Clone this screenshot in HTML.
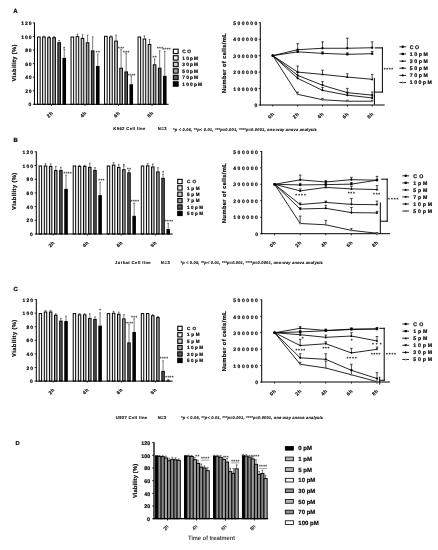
<!DOCTYPE html>
<html><head><meta charset="utf-8"><title>Figure</title>
<style>
html,body{margin:0;padding:0;background:#fff;}
svg{display:block;font-family:"Liberation Sans",sans-serif;text-rendering:geometricPrecision;}
</style></head><body>
<svg width="438" height="550" viewBox="0 0 438 550">
<rect x="0" y="0" width="438" height="550" fill="#fff"/>
<rect x="37.55" y="37" width="2.6" height="67.3" fill="#ffffff" stroke="#000" stroke-width="1"/>
<line x1="43.93" y1="36.5" x2="43.93" y2="36.09" stroke="#333" stroke-width="0.65" stroke-linecap="butt"/>
<line x1="43.08" y1="36.09" x2="44.78" y2="36.09" stroke="#333" stroke-width="0.65" stroke-linecap="butt"/>
<rect x="42.63" y="37" width="2.6" height="67.3" fill="#f0f0f0" stroke="#000" stroke-width="1"/>
<line x1="49.01" y1="37.18" x2="49.01" y2="36.64" stroke="#333" stroke-width="0.65" stroke-linecap="butt"/>
<line x1="48.16" y1="36.64" x2="49.86" y2="36.64" stroke="#333" stroke-width="0.65" stroke-linecap="butt"/>
<rect x="47.71" y="37.68" width="2.6" height="66.62" fill="#cdcdcd" stroke="#000" stroke-width="1"/>
<line x1="54.09" y1="37.18" x2="54.09" y2="36.64" stroke="#333" stroke-width="0.65" stroke-linecap="butt"/>
<line x1="53.24" y1="36.64" x2="54.94" y2="36.64" stroke="#333" stroke-width="0.65" stroke-linecap="butt"/>
<rect x="52.79" y="37.68" width="2.6" height="66.62" fill="#a4a4a4" stroke="#000" stroke-width="1"/>
<line x1="59.17" y1="42.26" x2="59.17" y2="40.57" stroke="#333" stroke-width="0.65" stroke-linecap="butt"/>
<line x1="58.32" y1="40.57" x2="60.02" y2="40.57" stroke="#333" stroke-width="0.65" stroke-linecap="butt"/>
<rect x="57.87" y="42.76" width="2.6" height="61.54" fill="#5a5a5a" stroke="#000" stroke-width="1"/>
<line x1="64.25" y1="57.86" x2="64.25" y2="49.38" stroke="#333" stroke-width="0.65" stroke-linecap="butt"/>
<line x1="63.4" y1="49.38" x2="65.1" y2="49.38" stroke="#333" stroke-width="0.65" stroke-linecap="butt"/>
<rect x="62.95" y="58.36" width="2.6" height="45.94" fill="#000000" stroke="#000" stroke-width="1"/>
<rect x="71.05" y="37" width="2.6" height="67.3" fill="#ffffff" stroke="#000" stroke-width="1"/>
<line x1="77.43" y1="36.16" x2="77.43" y2="34.13" stroke="#333" stroke-width="0.65" stroke-linecap="butt"/>
<line x1="76.58" y1="34.13" x2="78.28" y2="34.13" stroke="#333" stroke-width="0.65" stroke-linecap="butt"/>
<rect x="76.13" y="36.66" width="2.6" height="67.64" fill="#f0f0f0" stroke="#000" stroke-width="1"/>
<line x1="82.51" y1="37.86" x2="82.51" y2="34.8" stroke="#333" stroke-width="0.65" stroke-linecap="butt"/>
<line x1="81.66" y1="34.8" x2="83.36" y2="34.8" stroke="#333" stroke-width="0.65" stroke-linecap="butt"/>
<rect x="81.21" y="38.36" width="2.6" height="65.94" fill="#cdcdcd" stroke="#000" stroke-width="1"/>
<line x1="87.59" y1="42.26" x2="87.59" y2="35.14" stroke="#333" stroke-width="0.65" stroke-linecap="butt"/>
<line x1="86.74" y1="35.14" x2="88.44" y2="35.14" stroke="#333" stroke-width="0.65" stroke-linecap="butt"/>
<rect x="86.29" y="42.76" width="2.6" height="61.54" fill="#a4a4a4" stroke="#000" stroke-width="1"/>
<line x1="92.67" y1="50.4" x2="92.67" y2="36.84" stroke="#333" stroke-width="0.65" stroke-linecap="butt"/>
<line x1="91.82" y1="36.84" x2="93.52" y2="36.84" stroke="#333" stroke-width="0.65" stroke-linecap="butt"/>
<rect x="91.37" y="50.9" width="2.6" height="53.4" fill="#5a5a5a" stroke="#000" stroke-width="1"/>
<line x1="97.75" y1="65.99" x2="97.75" y2="54.13" stroke="#333" stroke-width="0.65" stroke-linecap="butt"/>
<line x1="96.9" y1="54.13" x2="98.6" y2="54.13" stroke="#333" stroke-width="0.65" stroke-linecap="butt"/>
<rect x="96.45" y="66.49" width="2.6" height="37.81" fill="#000000" stroke="#000" stroke-width="1"/>
<rect x="104.55" y="36.32" width="2.6" height="67.98" fill="#ffffff" stroke="#000" stroke-width="1"/>
<line x1="110.93" y1="36.5" x2="110.93" y2="35.82" stroke="#333" stroke-width="0.65" stroke-linecap="butt"/>
<line x1="110.08" y1="35.82" x2="111.78" y2="35.82" stroke="#333" stroke-width="0.65" stroke-linecap="butt"/>
<rect x="109.63" y="37" width="2.6" height="67.3" fill="#f0f0f0" stroke="#000" stroke-width="1"/>
<line x1="116.01" y1="40.57" x2="116.01" y2="35.14" stroke="#333" stroke-width="0.65" stroke-linecap="butt"/>
<line x1="115.16" y1="35.14" x2="116.86" y2="35.14" stroke="#333" stroke-width="0.65" stroke-linecap="butt"/>
<rect x="114.71" y="41.07" width="2.6" height="63.23" fill="#cdcdcd" stroke="#000" stroke-width="1"/>
<line x1="121.09" y1="67.69" x2="121.09" y2="49.72" stroke="#333" stroke-width="0.65" stroke-linecap="butt"/>
<line x1="120.24" y1="49.72" x2="121.94" y2="49.72" stroke="#333" stroke-width="0.65" stroke-linecap="butt"/>
<rect x="119.79" y="68.19" width="2.6" height="36.11" fill="#a4a4a4" stroke="#000" stroke-width="1"/>
<line x1="126.17" y1="71.42" x2="126.17" y2="53.11" stroke="#333" stroke-width="0.65" stroke-linecap="butt"/>
<line x1="125.32" y1="53.11" x2="127.02" y2="53.11" stroke="#333" stroke-width="0.65" stroke-linecap="butt"/>
<rect x="124.87" y="71.92" width="2.6" height="32.38" fill="#5a5a5a" stroke="#000" stroke-width="1"/>
<line x1="131.25" y1="84.3" x2="131.25" y2="76.16" stroke="#333" stroke-width="0.65" stroke-linecap="butt"/>
<line x1="130.4" y1="76.16" x2="132.1" y2="76.16" stroke="#333" stroke-width="0.65" stroke-linecap="butt"/>
<rect x="129.95" y="84.8" width="2.6" height="19.5" fill="#000000" stroke="#000" stroke-width="1"/>
<rect x="138.05" y="37" width="2.6" height="67.3" fill="#ffffff" stroke="#000" stroke-width="1"/>
<line x1="144.43" y1="38.53" x2="144.43" y2="35.82" stroke="#333" stroke-width="0.65" stroke-linecap="butt"/>
<line x1="143.58" y1="35.82" x2="145.28" y2="35.82" stroke="#333" stroke-width="0.65" stroke-linecap="butt"/>
<rect x="143.13" y="39.03" width="2.6" height="65.27" fill="#f0f0f0" stroke="#000" stroke-width="1"/>
<line x1="149.51" y1="43.96" x2="149.51" y2="39.55" stroke="#333" stroke-width="0.65" stroke-linecap="butt"/>
<line x1="148.66" y1="39.55" x2="150.36" y2="39.55" stroke="#333" stroke-width="0.65" stroke-linecap="butt"/>
<rect x="148.21" y="44.46" width="2.6" height="59.84" fill="#cdcdcd" stroke="#000" stroke-width="1"/>
<line x1="154.59" y1="64.3" x2="154.59" y2="58.87" stroke="#333" stroke-width="0.65" stroke-linecap="butt"/>
<line x1="153.74" y1="58.87" x2="155.44" y2="58.87" stroke="#333" stroke-width="0.65" stroke-linecap="butt"/>
<rect x="153.29" y="64.8" width="2.6" height="39.5" fill="#a4a4a4" stroke="#000" stroke-width="1"/>
<line x1="159.67" y1="67.69" x2="159.67" y2="50.74" stroke="#333" stroke-width="0.65" stroke-linecap="butt"/>
<line x1="158.82" y1="50.74" x2="160.52" y2="50.74" stroke="#333" stroke-width="0.65" stroke-linecap="butt"/>
<rect x="158.37" y="68.19" width="2.6" height="36.11" fill="#5a5a5a" stroke="#000" stroke-width="1"/>
<line x1="164.75" y1="75.82" x2="164.75" y2="51.42" stroke="#333" stroke-width="0.65" stroke-linecap="butt"/>
<line x1="163.9" y1="51.42" x2="165.6" y2="51.42" stroke="#333" stroke-width="0.65" stroke-linecap="butt"/>
<rect x="163.45" y="76.32" width="2.6" height="27.98" fill="#000000" stroke="#000" stroke-width="1"/>
<text transform="translate(63.36 49.83) scale(0.1)" font-size="46" text-anchor="start" fill="#222" font-weight="bold" stroke="#222" stroke-width="0.5">*</text>
<text transform="translate(95.7 54.03) scale(0.1)" font-size="46" text-anchor="start" fill="#222" font-weight="bold" textLength="41" lengthAdjust="spacing" stroke="#222" stroke-width="0.5">**</text>
<text transform="translate(118.01 49.83) scale(0.1)" font-size="46" text-anchor="start" fill="#222" font-weight="bold" textLength="61.5" lengthAdjust="spacing" stroke="#222" stroke-width="0.5">***</text>
<text transform="translate(123.09 53.53) scale(0.1)" font-size="46" text-anchor="start" fill="#222" font-weight="bold" textLength="61.5" lengthAdjust="spacing" stroke="#222" stroke-width="0.5">***</text>
<text transform="translate(127.15 76.83) scale(0.1)" font-size="46" text-anchor="start" fill="#222" font-weight="bold" textLength="82" lengthAdjust="spacing" stroke="#222" stroke-width="0.5">****</text>
<text transform="translate(152.54 59.23) scale(0.1)" font-size="46" text-anchor="start" fill="#222" font-weight="bold" textLength="41" lengthAdjust="spacing" stroke="#222" stroke-width="0.5">**</text>
<text transform="translate(156.9 50.43) scale(0.1)" font-size="46" text-anchor="start" fill="#222" font-weight="bold" textLength="61.5" lengthAdjust="spacing" stroke="#222" stroke-width="0.5">***</text>
<text transform="translate(162.45 51.03) scale(0.1)" font-size="46" text-anchor="start" fill="#222" font-weight="bold" textLength="82" lengthAdjust="spacing" stroke="#222" stroke-width="0.5">****</text>
<line x1="34.45" y1="22.54" x2="34.45" y2="104.8" stroke="#000" stroke-width="1" stroke-linecap="butt"/>
<line x1="33.95" y1="104.3" x2="168.6" y2="104.3" stroke="#000" stroke-width="1" stroke-linecap="butt"/>
<line x1="32.85" y1="104.3" x2="34.45" y2="104.3" stroke="#000" stroke-width="0.8" stroke-linecap="butt"/>
<text transform="translate(28.55 106.4) scale(0.1)" font-size="50" text-anchor="start" fill="#0a0a0a" font-weight="bold" stroke="#0a0a0a" stroke-width="2">0</text>
<line x1="32.85" y1="90.74" x2="34.45" y2="90.74" stroke="#000" stroke-width="0.8" stroke-linecap="butt"/>
<text transform="translate(25.15 92.84) scale(0.1)" font-size="50" text-anchor="start" fill="#0a0a0a" font-weight="bold" textLength="64" lengthAdjust="spacing" stroke="#0a0a0a" stroke-width="2">20</text>
<line x1="32.85" y1="77.18" x2="34.45" y2="77.18" stroke="#000" stroke-width="0.8" stroke-linecap="butt"/>
<text transform="translate(25.15 79.28) scale(0.1)" font-size="50" text-anchor="start" fill="#0a0a0a" font-weight="bold" textLength="64" lengthAdjust="spacing" stroke="#0a0a0a" stroke-width="2">40</text>
<line x1="32.85" y1="63.62" x2="34.45" y2="63.62" stroke="#000" stroke-width="0.8" stroke-linecap="butt"/>
<text transform="translate(25.15 65.72) scale(0.1)" font-size="50" text-anchor="start" fill="#0a0a0a" font-weight="bold" textLength="64" lengthAdjust="spacing" stroke="#0a0a0a" stroke-width="2">60</text>
<line x1="32.85" y1="50.06" x2="34.45" y2="50.06" stroke="#000" stroke-width="0.8" stroke-linecap="butt"/>
<text transform="translate(25.15 52.16) scale(0.1)" font-size="50" text-anchor="start" fill="#0a0a0a" font-weight="bold" textLength="64" lengthAdjust="spacing" stroke="#0a0a0a" stroke-width="2">80</text>
<line x1="32.85" y1="36.5" x2="34.45" y2="36.5" stroke="#000" stroke-width="0.8" stroke-linecap="butt"/>
<text transform="translate(21.35 38.6) scale(0.1)" font-size="50" text-anchor="start" fill="#0a0a0a" font-weight="bold" textLength="102" lengthAdjust="spacing" stroke="#0a0a0a" stroke-width="2">100</text>
<line x1="32.85" y1="22.94" x2="34.45" y2="22.94" stroke="#000" stroke-width="0.8" stroke-linecap="butt"/>
<text transform="translate(21.35 25.04) scale(0.1)" font-size="50" text-anchor="start" fill="#0a0a0a" font-weight="bold" textLength="102" lengthAdjust="spacing" stroke="#0a0a0a" stroke-width="2">120</text>
<line x1="51.55" y1="104.3" x2="51.55" y2="105.9" stroke="#000" stroke-width="0.8" stroke-linecap="butt"/>
<text transform="translate(53.05 113.6) rotate(-45) scale(0.1)" font-size="50" text-anchor="end" fill="#0a0a0a" font-weight="bold" textLength="62" lengthAdjust="spacing" stroke="#0a0a0a" stroke-width="1.5">2h</text>
<line x1="85.05" y1="104.3" x2="85.05" y2="105.9" stroke="#000" stroke-width="0.8" stroke-linecap="butt"/>
<text transform="translate(86.55 113.6) rotate(-45) scale(0.1)" font-size="50" text-anchor="end" fill="#0a0a0a" font-weight="bold" textLength="62" lengthAdjust="spacing" stroke="#0a0a0a" stroke-width="1.5">4h</text>
<line x1="118.55" y1="104.3" x2="118.55" y2="105.9" stroke="#000" stroke-width="0.8" stroke-linecap="butt"/>
<text transform="translate(120.05 113.6) rotate(-45) scale(0.1)" font-size="50" text-anchor="end" fill="#0a0a0a" font-weight="bold" textLength="62" lengthAdjust="spacing" stroke="#0a0a0a" stroke-width="1.5">6h</text>
<line x1="152.05" y1="104.3" x2="152.05" y2="105.9" stroke="#000" stroke-width="0.8" stroke-linecap="butt"/>
<text transform="translate(153.55 113.6) rotate(-45) scale(0.1)" font-size="50" text-anchor="end" fill="#0a0a0a" font-weight="bold" textLength="62" lengthAdjust="spacing" stroke="#0a0a0a" stroke-width="1.5">8h</text>
<text transform="translate(15.5 63.1) rotate(-90) scale(0.1)" font-size="57" text-anchor="middle" fill="#0a0a0a" font-weight="bold" textLength="370" lengthAdjust="spacing" stroke="#0a0a0a" stroke-width="2">Viability (%)</text>
<rect x="173.35" y="49.2" width="4.8" height="4.4" fill="#ffffff" stroke="#000" stroke-width="1.1"/>
<text transform="translate(182.3 53.13) scale(0.1)" font-size="48" text-anchor="start" fill="#0a0a0a" font-weight="bold" textLength="86" lengthAdjust="spacing" stroke="#0a0a0a" stroke-width="2">CO</text>
<rect x="173.35" y="55.72" width="4.8" height="4.4" fill="#f0f0f0" stroke="#000" stroke-width="1.1"/>
<text transform="translate(182.3 59.65) scale(0.1)" font-size="48" text-anchor="start" fill="#0a0a0a" font-weight="bold" textLength="158" lengthAdjust="spacing" stroke="#0a0a0a" stroke-width="2">10pM</text>
<rect x="173.35" y="62.24" width="4.8" height="4.4" fill="#cdcdcd" stroke="#000" stroke-width="1.1"/>
<text transform="translate(182.3 66.17) scale(0.1)" font-size="48" text-anchor="start" fill="#0a0a0a" font-weight="bold" textLength="158" lengthAdjust="spacing" stroke="#0a0a0a" stroke-width="2">30pM</text>
<rect x="173.35" y="68.76" width="4.8" height="4.4" fill="#a4a4a4" stroke="#000" stroke-width="1.1"/>
<text transform="translate(182.3 72.69) scale(0.1)" font-size="48" text-anchor="start" fill="#0a0a0a" font-weight="bold" textLength="158" lengthAdjust="spacing" stroke="#0a0a0a" stroke-width="2">50pM</text>
<rect x="173.35" y="75.28" width="4.8" height="4.4" fill="#5a5a5a" stroke="#000" stroke-width="1.1"/>
<text transform="translate(182.3 79.21) scale(0.1)" font-size="48" text-anchor="start" fill="#0a0a0a" font-weight="bold" textLength="158" lengthAdjust="spacing" stroke="#0a0a0a" stroke-width="2">70pM</text>
<rect x="173.35" y="81.8" width="4.8" height="4.4" fill="#000000" stroke="#000" stroke-width="1.1"/>
<text transform="translate(182.3 85.73) scale(0.1)" font-size="48" text-anchor="start" fill="#0a0a0a" font-weight="bold" textLength="198" lengthAdjust="spacing" stroke="#0a0a0a" stroke-width="2">100pM</text>
<text transform="translate(13.2 13.1) scale(0.1)" font-size="61" text-anchor="start" fill="#0a0a0a" font-weight="bold" stroke="#0a0a0a" stroke-width="2">A</text>
<line x1="260.3" y1="22.35" x2="260.3" y2="105.5" stroke="#000" stroke-width="1" stroke-linecap="butt"/>
<line x1="259.8" y1="105" x2="384.7" y2="105" stroke="#000" stroke-width="1" stroke-linecap="butt"/>
<line x1="258.7" y1="105" x2="260.3" y2="105" stroke="#000" stroke-width="0.8" stroke-linecap="butt"/>
<text transform="translate(254.5 107.2) scale(0.1)" font-size="50" text-anchor="start" fill="#0a0a0a" font-weight="bold" stroke="#0a0a0a" stroke-width="2">0</text>
<line x1="258.7" y1="88.55" x2="260.3" y2="88.55" stroke="#000" stroke-width="0.8" stroke-linecap="butt"/>
<text transform="translate(233.2 90.75) scale(0.1)" font-size="50" text-anchor="start" fill="#0a0a0a" font-weight="bold" textLength="240" lengthAdjust="spacing" stroke="#0a0a0a" stroke-width="2">100000</text>
<line x1="258.7" y1="72.1" x2="260.3" y2="72.1" stroke="#000" stroke-width="0.8" stroke-linecap="butt"/>
<text transform="translate(233.2 74.3) scale(0.1)" font-size="50" text-anchor="start" fill="#0a0a0a" font-weight="bold" textLength="240" lengthAdjust="spacing" stroke="#0a0a0a" stroke-width="2">200000</text>
<line x1="258.7" y1="55.65" x2="260.3" y2="55.65" stroke="#000" stroke-width="0.8" stroke-linecap="butt"/>
<text transform="translate(233.2 57.85) scale(0.1)" font-size="50" text-anchor="start" fill="#0a0a0a" font-weight="bold" textLength="240" lengthAdjust="spacing" stroke="#0a0a0a" stroke-width="2">300000</text>
<line x1="258.7" y1="39.2" x2="260.3" y2="39.2" stroke="#000" stroke-width="0.8" stroke-linecap="butt"/>
<text transform="translate(233.2 41.4) scale(0.1)" font-size="50" text-anchor="start" fill="#0a0a0a" font-weight="bold" textLength="240" lengthAdjust="spacing" stroke="#0a0a0a" stroke-width="2">400000</text>
<line x1="258.7" y1="22.75" x2="260.3" y2="22.75" stroke="#000" stroke-width="0.8" stroke-linecap="butt"/>
<text transform="translate(233.2 24.95) scale(0.1)" font-size="50" text-anchor="start" fill="#0a0a0a" font-weight="bold" textLength="240" lengthAdjust="spacing" stroke="#0a0a0a" stroke-width="2">500000</text>
<line x1="272.8" y1="105" x2="272.8" y2="106.6" stroke="#000" stroke-width="0.8" stroke-linecap="butt"/>
<text transform="translate(274.3 114.5) rotate(-45) scale(0.1)" font-size="50" text-anchor="end" fill="#0a0a0a" font-weight="bold" textLength="62" lengthAdjust="spacing" stroke="#0a0a0a" stroke-width="1.5">0h</text>
<line x1="297.65" y1="105" x2="297.65" y2="106.6" stroke="#000" stroke-width="0.8" stroke-linecap="butt"/>
<text transform="translate(299.15 114.5) rotate(-45) scale(0.1)" font-size="50" text-anchor="end" fill="#0a0a0a" font-weight="bold" textLength="62" lengthAdjust="spacing" stroke="#0a0a0a" stroke-width="1.5">2h</text>
<line x1="322.5" y1="105" x2="322.5" y2="106.6" stroke="#000" stroke-width="0.8" stroke-linecap="butt"/>
<text transform="translate(324 114.5) rotate(-45) scale(0.1)" font-size="50" text-anchor="end" fill="#0a0a0a" font-weight="bold" textLength="62" lengthAdjust="spacing" stroke="#0a0a0a" stroke-width="1.5">4h</text>
<line x1="347.35" y1="105" x2="347.35" y2="106.6" stroke="#000" stroke-width="0.8" stroke-linecap="butt"/>
<text transform="translate(348.85 114.5) rotate(-45) scale(0.1)" font-size="50" text-anchor="end" fill="#0a0a0a" font-weight="bold" textLength="62" lengthAdjust="spacing" stroke="#0a0a0a" stroke-width="1.5">6h</text>
<line x1="372.2" y1="105" x2="372.2" y2="106.6" stroke="#000" stroke-width="0.8" stroke-linecap="butt"/>
<text transform="translate(373.7 114.5) rotate(-45) scale(0.1)" font-size="50" text-anchor="end" fill="#0a0a0a" font-weight="bold" textLength="62" lengthAdjust="spacing" stroke="#0a0a0a" stroke-width="1.5">8h</text>
<line x1="297.65" y1="92.17" x2="297.65" y2="94.31" stroke="#000" stroke-width="0.7" stroke-linecap="butt"/>
<line x1="296.35" y1="92.17" x2="298.95" y2="92.17" stroke="#000" stroke-width="0.7" stroke-linecap="butt"/>
<line x1="322.5" y1="98.42" x2="322.5" y2="99.74" stroke="#000" stroke-width="0.7" stroke-linecap="butt"/>
<line x1="321.2" y1="98.42" x2="323.8" y2="98.42" stroke="#000" stroke-width="0.7" stroke-linecap="butt"/>
<line x1="347.35" y1="100.23" x2="347.35" y2="101.22" stroke="#000" stroke-width="0.7" stroke-linecap="butt"/>
<line x1="346.05" y1="100.23" x2="348.65" y2="100.23" stroke="#000" stroke-width="0.7" stroke-linecap="butt"/>
<line x1="372.2" y1="100.23" x2="372.2" y2="101.22" stroke="#000" stroke-width="0.7" stroke-linecap="butt"/>
<line x1="370.9" y1="100.23" x2="373.5" y2="100.23" stroke="#000" stroke-width="0.7" stroke-linecap="butt"/>
<polyline points="272.8,55.65 297.65,94.31 322.5,99.74 347.35,101.22 372.2,101.22" fill="none" stroke="#000" stroke-width="0.85" stroke-linejoin="round"/>
<circle cx="272.8" cy="55.65" r="0.71" fill="#ccc" stroke="#333" stroke-width="0.45"/>
<circle cx="297.65" cy="94.31" r="0.71" fill="#ccc" stroke="#333" stroke-width="0.45"/>
<circle cx="322.5" cy="99.74" r="0.71" fill="#ccc" stroke="#333" stroke-width="0.45"/>
<circle cx="347.35" cy="101.22" r="0.71" fill="#ccc" stroke="#333" stroke-width="0.45"/>
<circle cx="372.2" cy="101.22" r="0.71" fill="#ccc" stroke="#333" stroke-width="0.45"/>
<line x1="297.65" y1="76.05" x2="297.65" y2="78.35" stroke="#000" stroke-width="0.7" stroke-linecap="butt"/>
<line x1="296.35" y1="76.05" x2="298.95" y2="76.05" stroke="#000" stroke-width="0.7" stroke-linecap="butt"/>
<line x1="322.5" y1="87.4" x2="322.5" y2="90.36" stroke="#000" stroke-width="0.7" stroke-linecap="butt"/>
<line x1="321.2" y1="87.4" x2="323.8" y2="87.4" stroke="#000" stroke-width="0.7" stroke-linecap="butt"/>
<line x1="347.35" y1="92.83" x2="347.35" y2="95.13" stroke="#000" stroke-width="0.7" stroke-linecap="butt"/>
<line x1="346.05" y1="92.83" x2="348.65" y2="92.83" stroke="#000" stroke-width="0.7" stroke-linecap="butt"/>
<line x1="372.2" y1="95.95" x2="372.2" y2="97.93" stroke="#000" stroke-width="0.7" stroke-linecap="butt"/>
<line x1="370.9" y1="95.95" x2="373.5" y2="95.95" stroke="#000" stroke-width="0.7" stroke-linecap="butt"/>
<polyline points="272.8,55.65 297.65,78.35 322.5,90.36 347.35,95.13 372.2,97.93" fill="none" stroke="#000" stroke-width="0.85" stroke-linejoin="round"/>
<path d="M271.54 55.65L272.8 54.39L274.06 55.65L272.8 56.92Z" fill="#000"/>
<path d="M296.39 78.35L297.65 77.09L298.92 78.35L297.65 79.62Z" fill="#000"/>
<path d="M321.24 90.36L322.5 89.09L323.76 90.36L322.5 91.62Z" fill="#000"/>
<path d="M346.09 95.13L347.35 93.86L348.62 95.13L347.35 96.39Z" fill="#000"/>
<path d="M370.94 97.93L372.2 96.66L373.47 97.93L372.2 99.19Z" fill="#000"/>
<line x1="297.65" y1="72.1" x2="297.65" y2="75.39" stroke="#000" stroke-width="0.7" stroke-linecap="butt"/>
<line x1="296.35" y1="72.1" x2="298.95" y2="72.1" stroke="#000" stroke-width="0.7" stroke-linecap="butt"/>
<line x1="322.5" y1="81.64" x2="322.5" y2="85.26" stroke="#000" stroke-width="0.7" stroke-linecap="butt"/>
<line x1="321.2" y1="81.64" x2="323.8" y2="81.64" stroke="#000" stroke-width="0.7" stroke-linecap="butt"/>
<line x1="347.35" y1="88.39" x2="347.35" y2="92.66" stroke="#000" stroke-width="0.7" stroke-linecap="butt"/>
<line x1="346.05" y1="88.39" x2="348.65" y2="88.39" stroke="#000" stroke-width="0.7" stroke-linecap="butt"/>
<line x1="372.2" y1="92" x2="372.2" y2="95.13" stroke="#000" stroke-width="0.7" stroke-linecap="butt"/>
<line x1="370.9" y1="92" x2="373.5" y2="92" stroke="#000" stroke-width="0.7" stroke-linecap="butt"/>
<polyline points="272.8,55.65 297.65,75.39 322.5,85.26 347.35,92.66 372.2,95.13" fill="none" stroke="#000" stroke-width="0.85" stroke-linejoin="round"/>
<path d="M271.54 54.73L274.06 54.73L272.8 56.92Z" fill="#000"/>
<path d="M296.39 74.47L298.92 74.47L297.65 76.66Z" fill="#000"/>
<path d="M321.24 84.34L323.76 84.34L322.5 86.53Z" fill="#000"/>
<path d="M346.09 91.74L348.62 91.74L347.35 93.93Z" fill="#000"/>
<path d="M370.94 94.21L373.47 94.21L372.2 96.39Z" fill="#000"/>
<line x1="297.65" y1="66.01" x2="297.65" y2="72.1" stroke="#000" stroke-width="0.7" stroke-linecap="butt"/>
<line x1="296.35" y1="66.01" x2="298.95" y2="66.01" stroke="#000" stroke-width="0.7" stroke-linecap="butt"/>
<line x1="322.5" y1="70.13" x2="322.5" y2="74.4" stroke="#000" stroke-width="0.7" stroke-linecap="butt"/>
<line x1="321.2" y1="70.13" x2="323.8" y2="70.13" stroke="#000" stroke-width="0.7" stroke-linecap="butt"/>
<line x1="347.35" y1="73.75" x2="347.35" y2="77.03" stroke="#000" stroke-width="0.7" stroke-linecap="butt"/>
<line x1="346.05" y1="73.75" x2="348.65" y2="73.75" stroke="#000" stroke-width="0.7" stroke-linecap="butt"/>
<line x1="372.2" y1="74.4" x2="372.2" y2="79.34" stroke="#000" stroke-width="0.7" stroke-linecap="butt"/>
<line x1="370.9" y1="74.4" x2="373.5" y2="74.4" stroke="#000" stroke-width="0.7" stroke-linecap="butt"/>
<polyline points="272.8,55.65 297.65,72.1 322.5,74.4 347.35,77.03 372.2,79.34" fill="none" stroke="#000" stroke-width="0.85" stroke-linejoin="round"/>
<path d="M271.54 56.57L274.06 56.57L272.8 54.39Z" fill="#000"/>
<path d="M296.39 73.02L298.92 73.02L297.65 70.83Z" fill="#000"/>
<path d="M321.24 75.32L323.76 75.32L322.5 73.14Z" fill="#000"/>
<path d="M346.09 77.95L348.62 77.95L347.35 75.77Z" fill="#000"/>
<path d="M370.94 80.26L373.47 80.26L372.2 78.07Z" fill="#000"/>
<line x1="297.65" y1="50.22" x2="297.65" y2="51.87" stroke="#000" stroke-width="0.7" stroke-linecap="butt"/>
<line x1="296.35" y1="50.22" x2="298.95" y2="50.22" stroke="#000" stroke-width="0.7" stroke-linecap="butt"/>
<line x1="322.5" y1="51.87" x2="322.5" y2="53.35" stroke="#000" stroke-width="0.7" stroke-linecap="butt"/>
<line x1="321.2" y1="51.87" x2="323.8" y2="51.87" stroke="#000" stroke-width="0.7" stroke-linecap="butt"/>
<line x1="347.35" y1="52.85" x2="347.35" y2="54.33" stroke="#000" stroke-width="0.7" stroke-linecap="butt"/>
<line x1="346.05" y1="52.85" x2="348.65" y2="52.85" stroke="#000" stroke-width="0.7" stroke-linecap="butt"/>
<line x1="372.2" y1="51.37" x2="372.2" y2="53.68" stroke="#000" stroke-width="0.7" stroke-linecap="butt"/>
<line x1="370.9" y1="51.37" x2="373.5" y2="51.37" stroke="#000" stroke-width="0.7" stroke-linecap="butt"/>
<polyline points="272.8,55.65 297.65,51.87 322.5,53.35 347.35,54.33 372.2,53.68" fill="none" stroke="#000" stroke-width="0.85" stroke-linejoin="round"/>
<rect x="271.71" y="54.56" width="2.18" height="2.18" fill="#000"/>
<rect x="296.56" y="50.77" width="2.18" height="2.18" fill="#000"/>
<rect x="321.41" y="52.25" width="2.18" height="2.18" fill="#000"/>
<rect x="346.26" y="53.24" width="2.18" height="2.18" fill="#000"/>
<rect x="371.11" y="52.58" width="2.18" height="2.18" fill="#000"/>
<line x1="297.65" y1="43.64" x2="297.65" y2="49.73" stroke="#000" stroke-width="0.7" stroke-linecap="butt"/>
<line x1="296.35" y1="43.64" x2="298.95" y2="43.64" stroke="#000" stroke-width="0.7" stroke-linecap="butt"/>
<line x1="322.5" y1="41.83" x2="322.5" y2="48.25" stroke="#000" stroke-width="0.7" stroke-linecap="butt"/>
<line x1="321.2" y1="41.83" x2="323.8" y2="41.83" stroke="#000" stroke-width="0.7" stroke-linecap="butt"/>
<line x1="347.35" y1="38.21" x2="347.35" y2="48.25" stroke="#000" stroke-width="0.7" stroke-linecap="butt"/>
<line x1="346.05" y1="38.21" x2="348.65" y2="38.21" stroke="#000" stroke-width="0.7" stroke-linecap="butt"/>
<line x1="372.2" y1="41.83" x2="372.2" y2="47.75" stroke="#000" stroke-width="0.7" stroke-linecap="butt"/>
<line x1="370.9" y1="41.83" x2="373.5" y2="41.83" stroke="#000" stroke-width="0.7" stroke-linecap="butt"/>
<polyline points="272.8,55.65 297.65,49.73 322.5,48.25 347.35,48.25 372.2,47.75" fill="none" stroke="#000" stroke-width="0.85" stroke-linejoin="round"/>
<circle cx="272.8" cy="55.65" r="1.15" fill="#000"/>
<circle cx="297.65" cy="49.73" r="1.15" fill="#000"/>
<circle cx="322.5" cy="48.25" r="1.15" fill="#000"/>
<circle cx="347.35" cy="48.25" r="1.15" fill="#000"/>
<circle cx="372.2" cy="47.75" r="1.15" fill="#000"/>
<line x1="374.7" y1="47.9" x2="382.9" y2="47.9" stroke="#000" stroke-width="1" stroke-linecap="butt"/>
<line x1="382.4" y1="47.4" x2="382.4" y2="92.6" stroke="#000" stroke-width="1" stroke-linecap="butt"/>
<line x1="374.7" y1="92.1" x2="382.9" y2="92.1" stroke="#000" stroke-width="1" stroke-linecap="butt"/>
<line x1="374.4" y1="77.9" x2="374.4" y2="104.5" stroke="#000" stroke-width="1" stroke-linecap="butt"/>
<text transform="translate(383.7 70.94) scale(0.1)" font-size="48" text-anchor="start" fill="#222" font-weight="bold" textLength="94" lengthAdjust="spacing" stroke="#222" stroke-width="0.5">****</text>
<text transform="translate(226.4 63.1) rotate(-90) scale(0.1)" font-size="57" text-anchor="middle" fill="#0a0a0a" font-weight="bold" textLength="597" lengthAdjust="spacing" stroke="#0a0a0a" stroke-width="2">Number of cells/mL</text>
<line x1="399.4" y1="46.8" x2="406.1" y2="46.8" stroke="#000" stroke-width="0.85" stroke-linecap="butt"/>
<circle cx="402.75" cy="46.8" r="1.2" fill="#000"/>
<text transform="translate(409.8 48.67) scale(0.1)" font-size="52" text-anchor="start" fill="#0a0a0a" font-weight="bold" textLength="92" lengthAdjust="spacing" stroke="#0a0a0a" stroke-width="2">CO</text>
<line x1="399.4" y1="53.95" x2="406.1" y2="53.95" stroke="#000" stroke-width="0.85" stroke-linecap="butt"/>
<rect x="401.61" y="52.81" width="2.28" height="2.28" fill="#000"/>
<text transform="translate(409.8 55.82) scale(0.1)" font-size="52" text-anchor="start" fill="#0a0a0a" font-weight="bold" textLength="180" lengthAdjust="spacing" stroke="#0a0a0a" stroke-width="2">10pM</text>
<line x1="399.4" y1="61.1" x2="406.1" y2="61.1" stroke="#000" stroke-width="0.85" stroke-linecap="butt"/>
<path d="M401.43 62.06L404.07 62.06L402.75 59.78Z" fill="#000"/>
<text transform="translate(409.8 62.97) scale(0.1)" font-size="52" text-anchor="start" fill="#0a0a0a" font-weight="bold" textLength="180" lengthAdjust="spacing" stroke="#0a0a0a" stroke-width="2">30pM</text>
<line x1="399.4" y1="68.25" x2="406.1" y2="68.25" stroke="#000" stroke-width="0.85" stroke-linecap="butt"/>
<path d="M401.43 67.29L404.07 67.29L402.75 69.57Z" fill="#000"/>
<text transform="translate(409.8 70.12) scale(0.1)" font-size="52" text-anchor="start" fill="#0a0a0a" font-weight="bold" textLength="180" lengthAdjust="spacing" stroke="#0a0a0a" stroke-width="2">50pM</text>
<line x1="399.4" y1="75.4" x2="406.1" y2="75.4" stroke="#000" stroke-width="0.85" stroke-linecap="butt"/>
<path d="M401.43 75.4L402.75 74.08L404.07 75.4L402.75 76.72Z" fill="#000"/>
<text transform="translate(409.8 77.27) scale(0.1)" font-size="52" text-anchor="start" fill="#0a0a0a" font-weight="bold" textLength="180" lengthAdjust="spacing" stroke="#0a0a0a" stroke-width="2">70pM</text>
<line x1="399.4" y1="82.55" x2="406.1" y2="82.55" stroke="#000" stroke-width="0.85" stroke-linecap="butt"/>
<circle cx="402.75" cy="82.55" r="0.74" fill="#ccc" stroke="#333" stroke-width="0.45"/>
<text transform="translate(409.8 84.42) scale(0.1)" font-size="52" text-anchor="start" fill="#0a0a0a" font-weight="bold" textLength="220" lengthAdjust="spacing" stroke="#0a0a0a" stroke-width="2">100pM</text>
<rect x="39.16" y="166" width="2.45" height="68" fill="#ffffff" stroke="#000" stroke-width="1"/>
<line x1="45.52" y1="165.5" x2="45.52" y2="163.72" stroke="#333" stroke-width="0.65" stroke-linecap="butt"/>
<line x1="44.66" y1="163.72" x2="46.37" y2="163.72" stroke="#333" stroke-width="0.65" stroke-linecap="butt"/>
<rect x="44.29" y="166" width="2.45" height="68" fill="#f0f0f0" stroke="#000" stroke-width="1"/>
<line x1="50.64" y1="165.91" x2="50.64" y2="163.86" stroke="#333" stroke-width="0.65" stroke-linecap="butt"/>
<line x1="49.79" y1="163.86" x2="51.49" y2="163.86" stroke="#333" stroke-width="0.65" stroke-linecap="butt"/>
<rect x="49.42" y="166.41" width="2.45" height="67.59" fill="#cdcdcd" stroke="#000" stroke-width="1"/>
<line x1="55.77" y1="170.09" x2="55.77" y2="166.46" stroke="#333" stroke-width="0.65" stroke-linecap="butt"/>
<line x1="54.92" y1="166.46" x2="56.62" y2="166.46" stroke="#333" stroke-width="0.65" stroke-linecap="butt"/>
<rect x="54.55" y="170.59" width="2.45" height="63.41" fill="#a4a4a4" stroke="#000" stroke-width="1"/>
<line x1="60.9" y1="170.09" x2="60.9" y2="167.21" stroke="#333" stroke-width="0.65" stroke-linecap="butt"/>
<line x1="60.05" y1="167.21" x2="61.75" y2="167.21" stroke="#333" stroke-width="0.65" stroke-linecap="butt"/>
<rect x="59.68" y="170.59" width="2.45" height="63.41" fill="#5a5a5a" stroke="#000" stroke-width="1"/>
<line x1="66.03" y1="188.79" x2="66.03" y2="175.09" stroke="#333" stroke-width="0.65" stroke-linecap="butt"/>
<line x1="65.19" y1="175.09" x2="66.88" y2="175.09" stroke="#333" stroke-width="0.65" stroke-linecap="butt"/>
<rect x="64.81" y="189.29" width="2.45" height="44.71" fill="#000000" stroke="#000" stroke-width="1"/>
<rect x="73.21" y="166" width="2.45" height="68" fill="#ffffff" stroke="#000" stroke-width="1"/>
<line x1="79.56" y1="165.84" x2="79.56" y2="165.29" stroke="#333" stroke-width="0.65" stroke-linecap="butt"/>
<line x1="78.71" y1="165.29" x2="80.41" y2="165.29" stroke="#333" stroke-width="0.65" stroke-linecap="butt"/>
<rect x="78.34" y="166.34" width="2.45" height="67.66" fill="#f0f0f0" stroke="#000" stroke-width="1"/>
<line x1="84.69" y1="165.84" x2="84.69" y2="165.29" stroke="#333" stroke-width="0.65" stroke-linecap="butt"/>
<line x1="83.84" y1="165.29" x2="85.54" y2="165.29" stroke="#333" stroke-width="0.65" stroke-linecap="butt"/>
<rect x="83.47" y="166.34" width="2.45" height="67.66" fill="#cdcdcd" stroke="#000" stroke-width="1"/>
<line x1="89.82" y1="166.87" x2="89.82" y2="163.17" stroke="#333" stroke-width="0.65" stroke-linecap="butt"/>
<line x1="88.97" y1="163.17" x2="90.67" y2="163.17" stroke="#333" stroke-width="0.65" stroke-linecap="butt"/>
<rect x="88.6" y="167.37" width="2.45" height="66.63" fill="#a4a4a4" stroke="#000" stroke-width="1"/>
<line x1="94.95" y1="169.95" x2="94.95" y2="167.69" stroke="#333" stroke-width="0.65" stroke-linecap="butt"/>
<line x1="94.1" y1="167.69" x2="95.8" y2="167.69" stroke="#333" stroke-width="0.65" stroke-linecap="butt"/>
<rect x="93.73" y="170.45" width="2.45" height="63.55" fill="#5a5a5a" stroke="#000" stroke-width="1"/>
<line x1="100.08" y1="195.16" x2="100.08" y2="182.35" stroke="#333" stroke-width="0.65" stroke-linecap="butt"/>
<line x1="99.23" y1="182.35" x2="100.93" y2="182.35" stroke="#333" stroke-width="0.65" stroke-linecap="butt"/>
<rect x="98.86" y="195.66" width="2.45" height="38.34" fill="#000000" stroke="#000" stroke-width="1"/>
<rect x="107.26" y="166" width="2.45" height="68" fill="#ffffff" stroke="#000" stroke-width="1"/>
<line x1="113.61" y1="164.61" x2="113.61" y2="162.55" stroke="#333" stroke-width="0.65" stroke-linecap="butt"/>
<line x1="112.76" y1="162.55" x2="114.46" y2="162.55" stroke="#333" stroke-width="0.65" stroke-linecap="butt"/>
<rect x="112.39" y="165.11" width="2.45" height="68.89" fill="#f0f0f0" stroke="#000" stroke-width="1"/>
<line x1="118.74" y1="166.87" x2="118.74" y2="164.4" stroke="#333" stroke-width="0.65" stroke-linecap="butt"/>
<line x1="117.89" y1="164.4" x2="119.59" y2="164.4" stroke="#333" stroke-width="0.65" stroke-linecap="butt"/>
<rect x="117.52" y="167.37" width="2.45" height="66.63" fill="#cdcdcd" stroke="#000" stroke-width="1"/>
<line x1="123.87" y1="169.2" x2="123.87" y2="165.91" stroke="#333" stroke-width="0.65" stroke-linecap="butt"/>
<line x1="123.02" y1="165.91" x2="124.72" y2="165.91" stroke="#333" stroke-width="0.65" stroke-linecap="butt"/>
<rect x="122.65" y="169.7" width="2.45" height="64.3" fill="#a4a4a4" stroke="#000" stroke-width="1"/>
<line x1="129" y1="172.35" x2="129" y2="170.57" stroke="#333" stroke-width="0.65" stroke-linecap="butt"/>
<line x1="128.16" y1="170.57" x2="129.85" y2="170.57" stroke="#333" stroke-width="0.65" stroke-linecap="butt"/>
<rect x="127.78" y="172.85" width="2.45" height="61.15" fill="#5a5a5a" stroke="#000" stroke-width="1"/>
<line x1="134.13" y1="215.78" x2="134.13" y2="203.31" stroke="#333" stroke-width="0.65" stroke-linecap="butt"/>
<line x1="133.28" y1="203.31" x2="134.98" y2="203.31" stroke="#333" stroke-width="0.65" stroke-linecap="butt"/>
<rect x="132.91" y="216.28" width="2.45" height="17.72" fill="#000000" stroke="#000" stroke-width="1"/>
<rect x="141.31" y="166" width="2.45" height="68" fill="#ffffff" stroke="#000" stroke-width="1"/>
<line x1="147.66" y1="165.29" x2="147.66" y2="163.58" stroke="#333" stroke-width="0.65" stroke-linecap="butt"/>
<line x1="146.81" y1="163.58" x2="148.51" y2="163.58" stroke="#333" stroke-width="0.65" stroke-linecap="butt"/>
<rect x="146.44" y="165.79" width="2.45" height="68.21" fill="#f0f0f0" stroke="#000" stroke-width="1"/>
<line x1="152.79" y1="166.46" x2="152.79" y2="163.99" stroke="#333" stroke-width="0.65" stroke-linecap="butt"/>
<line x1="151.94" y1="163.99" x2="153.64" y2="163.99" stroke="#333" stroke-width="0.65" stroke-linecap="butt"/>
<rect x="151.57" y="166.96" width="2.45" height="67.04" fill="#cdcdcd" stroke="#000" stroke-width="1"/>
<line x1="157.92" y1="171.39" x2="157.92" y2="167.69" stroke="#333" stroke-width="0.65" stroke-linecap="butt"/>
<line x1="157.07" y1="167.69" x2="158.77" y2="167.69" stroke="#333" stroke-width="0.65" stroke-linecap="butt"/>
<rect x="156.7" y="171.89" width="2.45" height="62.11" fill="#a4a4a4" stroke="#000" stroke-width="1"/>
<line x1="163.06" y1="177.83" x2="163.06" y2="174.13" stroke="#333" stroke-width="0.65" stroke-linecap="butt"/>
<line x1="162.21" y1="174.13" x2="163.91" y2="174.13" stroke="#333" stroke-width="0.65" stroke-linecap="butt"/>
<rect x="161.83" y="178.33" width="2.45" height="55.67" fill="#5a5a5a" stroke="#000" stroke-width="1"/>
<line x1="168.19" y1="228.93" x2="168.19" y2="223.45" stroke="#333" stroke-width="0.65" stroke-linecap="butt"/>
<line x1="167.34" y1="223.45" x2="169.03" y2="223.45" stroke="#333" stroke-width="0.65" stroke-linecap="butt"/>
<rect x="166.96" y="229.43" width="2.45" height="4.57" fill="#000000" stroke="#000" stroke-width="1"/>
<text transform="translate(63.53 174.73) scale(0.1)" font-size="46" text-anchor="start" fill="#222" font-weight="bold" textLength="82" lengthAdjust="spacing" stroke="#222" stroke-width="0.5">****</text>
<text transform="translate(98.21 181.63) scale(0.1)" font-size="46" text-anchor="start" fill="#222" font-weight="bold" textLength="61.5" lengthAdjust="spacing" stroke="#222" stroke-width="0.5">***</text>
<text transform="translate(122.98 167.23) scale(0.1)" font-size="46" text-anchor="start" fill="#222" font-weight="bold" stroke="#222" stroke-width="0.5">*</text>
<text transform="translate(126.95 171.13) scale(0.1)" font-size="46" text-anchor="start" fill="#222" font-weight="bold" textLength="41" lengthAdjust="spacing" stroke="#222" stroke-width="0.5">**</text>
<text transform="translate(130.84 202.63) scale(0.1)" font-size="46" text-anchor="start" fill="#222" font-weight="bold" textLength="82" lengthAdjust="spacing" stroke="#222" stroke-width="0.5">****</text>
<text transform="translate(162.16 173.93) scale(0.1)" font-size="46" text-anchor="start" fill="#222" font-weight="bold" stroke="#222" stroke-width="0.5">*</text>
<text transform="translate(164.89 222.73) scale(0.1)" font-size="46" text-anchor="start" fill="#222" font-weight="bold" textLength="82" lengthAdjust="spacing" stroke="#222" stroke-width="0.5">****</text>
<line x1="36.3" y1="151.4" x2="36.3" y2="234.5" stroke="#000" stroke-width="1" stroke-linecap="butt"/>
<line x1="35.8" y1="234" x2="172.7" y2="234" stroke="#000" stroke-width="1" stroke-linecap="butt"/>
<line x1="34.7" y1="234" x2="36.3" y2="234" stroke="#000" stroke-width="0.8" stroke-linecap="butt"/>
<text transform="translate(29.9 236.06) scale(0.1)" font-size="49" text-anchor="start" fill="#0a0a0a" font-weight="bold" stroke="#0a0a0a" stroke-width="2">0</text>
<line x1="34.7" y1="220.3" x2="36.3" y2="220.3" stroke="#000" stroke-width="0.8" stroke-linecap="butt"/>
<text transform="translate(26.4 222.36) scale(0.1)" font-size="49" text-anchor="start" fill="#0a0a0a" font-weight="bold" textLength="65" lengthAdjust="spacing" stroke="#0a0a0a" stroke-width="2">20</text>
<line x1="34.7" y1="206.6" x2="36.3" y2="206.6" stroke="#000" stroke-width="0.8" stroke-linecap="butt"/>
<text transform="translate(26.4 208.66) scale(0.1)" font-size="49" text-anchor="start" fill="#0a0a0a" font-weight="bold" textLength="65" lengthAdjust="spacing" stroke="#0a0a0a" stroke-width="2">40</text>
<line x1="34.7" y1="192.9" x2="36.3" y2="192.9" stroke="#000" stroke-width="0.8" stroke-linecap="butt"/>
<text transform="translate(26.4 194.96) scale(0.1)" font-size="49" text-anchor="start" fill="#0a0a0a" font-weight="bold" textLength="65" lengthAdjust="spacing" stroke="#0a0a0a" stroke-width="2">60</text>
<line x1="34.7" y1="179.2" x2="36.3" y2="179.2" stroke="#000" stroke-width="0.8" stroke-linecap="butt"/>
<text transform="translate(26.4 181.26) scale(0.1)" font-size="49" text-anchor="start" fill="#0a0a0a" font-weight="bold" textLength="65" lengthAdjust="spacing" stroke="#0a0a0a" stroke-width="2">80</text>
<line x1="34.7" y1="165.5" x2="36.3" y2="165.5" stroke="#000" stroke-width="0.8" stroke-linecap="butt"/>
<text transform="translate(22.6 167.56) scale(0.1)" font-size="49" text-anchor="start" fill="#0a0a0a" font-weight="bold" textLength="103" lengthAdjust="spacing" stroke="#0a0a0a" stroke-width="2">100</text>
<line x1="34.7" y1="151.8" x2="36.3" y2="151.8" stroke="#000" stroke-width="0.8" stroke-linecap="butt"/>
<text transform="translate(22.6 153.86) scale(0.1)" font-size="49" text-anchor="start" fill="#0a0a0a" font-weight="bold" textLength="103" lengthAdjust="spacing" stroke="#0a0a0a" stroke-width="2">120</text>
<line x1="53.21" y1="234" x2="53.21" y2="235.6" stroke="#000" stroke-width="0.8" stroke-linecap="butt"/>
<text transform="translate(54.71 243.3) rotate(-45) scale(0.1)" font-size="49" text-anchor="end" fill="#0a0a0a" font-weight="bold" textLength="60" lengthAdjust="spacing" stroke="#0a0a0a" stroke-width="1.5">2h</text>
<line x1="87.26" y1="234" x2="87.26" y2="235.6" stroke="#000" stroke-width="0.8" stroke-linecap="butt"/>
<text transform="translate(88.76 243.3) rotate(-45) scale(0.1)" font-size="49" text-anchor="end" fill="#0a0a0a" font-weight="bold" textLength="60" lengthAdjust="spacing" stroke="#0a0a0a" stroke-width="1.5">4h</text>
<line x1="121.31" y1="234" x2="121.31" y2="235.6" stroke="#000" stroke-width="0.8" stroke-linecap="butt"/>
<text transform="translate(122.81 243.3) rotate(-45) scale(0.1)" font-size="49" text-anchor="end" fill="#0a0a0a" font-weight="bold" textLength="60" lengthAdjust="spacing" stroke="#0a0a0a" stroke-width="1.5">6h</text>
<line x1="155.36" y1="234" x2="155.36" y2="235.6" stroke="#000" stroke-width="0.8" stroke-linecap="butt"/>
<text transform="translate(156.86 243.3) rotate(-45) scale(0.1)" font-size="49" text-anchor="end" fill="#0a0a0a" font-weight="bold" textLength="60" lengthAdjust="spacing" stroke="#0a0a0a" stroke-width="1.5">8h</text>
<text transform="translate(15.7 191.4) rotate(-90) scale(0.1)" font-size="57" text-anchor="middle" fill="#0a0a0a" font-weight="bold" textLength="370" lengthAdjust="spacing" stroke="#0a0a0a" stroke-width="2">Viability (%)</text>
<rect x="177.75" y="179.35" width="4.4" height="4.3" fill="#ffffff" stroke="#000" stroke-width="1.1"/>
<text transform="translate(187.1 183.16) scale(0.1)" font-size="46" text-anchor="start" fill="#0a0a0a" font-weight="bold" textLength="89" lengthAdjust="spacing" stroke="#0a0a0a" stroke-width="2">CO</text>
<rect x="177.75" y="185.73" width="4.4" height="4.3" fill="#f0f0f0" stroke="#000" stroke-width="1.1"/>
<text transform="translate(187.1 189.54) scale(0.1)" font-size="46" text-anchor="start" fill="#0a0a0a" font-weight="bold" textLength="124" lengthAdjust="spacing" stroke="#0a0a0a" stroke-width="2">1pM</text>
<rect x="177.75" y="192.11" width="4.4" height="4.3" fill="#cdcdcd" stroke="#000" stroke-width="1.1"/>
<text transform="translate(187.1 195.92) scale(0.1)" font-size="46" text-anchor="start" fill="#0a0a0a" font-weight="bold" textLength="124" lengthAdjust="spacing" stroke="#0a0a0a" stroke-width="2">5pM</text>
<rect x="177.75" y="198.49" width="4.4" height="4.3" fill="#a4a4a4" stroke="#000" stroke-width="1.1"/>
<text transform="translate(187.1 202.3) scale(0.1)" font-size="46" text-anchor="start" fill="#0a0a0a" font-weight="bold" textLength="124" lengthAdjust="spacing" stroke="#0a0a0a" stroke-width="2">7pM</text>
<rect x="177.75" y="204.87" width="4.4" height="4.3" fill="#5a5a5a" stroke="#000" stroke-width="1.1"/>
<text transform="translate(187.1 208.68) scale(0.1)" font-size="46" text-anchor="start" fill="#0a0a0a" font-weight="bold" textLength="160" lengthAdjust="spacing" stroke="#0a0a0a" stroke-width="2">10pM</text>
<rect x="177.75" y="211.25" width="4.4" height="4.3" fill="#000000" stroke="#000" stroke-width="1.1"/>
<text transform="translate(187.1 215.06) scale(0.1)" font-size="46" text-anchor="start" fill="#0a0a0a" font-weight="bold" textLength="160" lengthAdjust="spacing" stroke="#0a0a0a" stroke-width="2">50pM</text>
<text transform="translate(13.5 142.4) scale(0.1)" font-size="60" text-anchor="start" fill="#0a0a0a" font-weight="bold" stroke="#0a0a0a" stroke-width="2">B</text>
<line x1="261.7" y1="150.95" x2="261.7" y2="234.2" stroke="#000" stroke-width="1" stroke-linecap="butt"/>
<line x1="261.2" y1="233.7" x2="390" y2="233.7" stroke="#000" stroke-width="1" stroke-linecap="butt"/>
<line x1="260.1" y1="233.7" x2="261.7" y2="233.7" stroke="#000" stroke-width="0.8" stroke-linecap="butt"/>
<text transform="translate(255.2 235.9) scale(0.1)" font-size="50" text-anchor="start" fill="#0a0a0a" font-weight="bold" stroke="#0a0a0a" stroke-width="2">0</text>
<line x1="260.1" y1="217.23" x2="261.7" y2="217.23" stroke="#000" stroke-width="0.8" stroke-linecap="butt"/>
<text transform="translate(233.2 219.43) scale(0.1)" font-size="50" text-anchor="start" fill="#0a0a0a" font-weight="bold" textLength="247" lengthAdjust="spacing" stroke="#0a0a0a" stroke-width="2">100000</text>
<line x1="260.1" y1="200.76" x2="261.7" y2="200.76" stroke="#000" stroke-width="0.8" stroke-linecap="butt"/>
<text transform="translate(233.2 202.96) scale(0.1)" font-size="50" text-anchor="start" fill="#0a0a0a" font-weight="bold" textLength="247" lengthAdjust="spacing" stroke="#0a0a0a" stroke-width="2">200000</text>
<line x1="260.1" y1="184.29" x2="261.7" y2="184.29" stroke="#000" stroke-width="0.8" stroke-linecap="butt"/>
<text transform="translate(233.2 186.49) scale(0.1)" font-size="50" text-anchor="start" fill="#0a0a0a" font-weight="bold" textLength="247" lengthAdjust="spacing" stroke="#0a0a0a" stroke-width="2">300000</text>
<line x1="260.1" y1="167.82" x2="261.7" y2="167.82" stroke="#000" stroke-width="0.8" stroke-linecap="butt"/>
<text transform="translate(233.2 170.02) scale(0.1)" font-size="50" text-anchor="start" fill="#0a0a0a" font-weight="bold" textLength="247" lengthAdjust="spacing" stroke="#0a0a0a" stroke-width="2">400000</text>
<line x1="260.1" y1="151.35" x2="261.7" y2="151.35" stroke="#000" stroke-width="0.8" stroke-linecap="butt"/>
<text transform="translate(233.2 153.55) scale(0.1)" font-size="50" text-anchor="start" fill="#0a0a0a" font-weight="bold" textLength="247" lengthAdjust="spacing" stroke="#0a0a0a" stroke-width="2">500000</text>
<line x1="274.6" y1="233.7" x2="274.6" y2="235.3" stroke="#000" stroke-width="0.8" stroke-linecap="butt"/>
<text transform="translate(276.1 243.2) rotate(-45) scale(0.1)" font-size="50" text-anchor="end" fill="#0a0a0a" font-weight="bold" textLength="62" lengthAdjust="spacing" stroke="#0a0a0a" stroke-width="1.5">0h</text>
<line x1="300.2" y1="233.7" x2="300.2" y2="235.3" stroke="#000" stroke-width="0.8" stroke-linecap="butt"/>
<text transform="translate(301.7 243.2) rotate(-45) scale(0.1)" font-size="50" text-anchor="end" fill="#0a0a0a" font-weight="bold" textLength="62" lengthAdjust="spacing" stroke="#0a0a0a" stroke-width="1.5">2h</text>
<line x1="325.8" y1="233.7" x2="325.8" y2="235.3" stroke="#000" stroke-width="0.8" stroke-linecap="butt"/>
<text transform="translate(327.3 243.2) rotate(-45) scale(0.1)" font-size="50" text-anchor="end" fill="#0a0a0a" font-weight="bold" textLength="62" lengthAdjust="spacing" stroke="#0a0a0a" stroke-width="1.5">4h</text>
<line x1="351.4" y1="233.7" x2="351.4" y2="235.3" stroke="#000" stroke-width="0.8" stroke-linecap="butt"/>
<text transform="translate(352.9 243.2) rotate(-45) scale(0.1)" font-size="50" text-anchor="end" fill="#0a0a0a" font-weight="bold" textLength="62" lengthAdjust="spacing" stroke="#0a0a0a" stroke-width="1.5">6h</text>
<line x1="377" y1="233.7" x2="377" y2="235.3" stroke="#000" stroke-width="0.8" stroke-linecap="butt"/>
<text transform="translate(378.5 243.2) rotate(-45) scale(0.1)" font-size="50" text-anchor="end" fill="#0a0a0a" font-weight="bold" textLength="62" lengthAdjust="spacing" stroke="#0a0a0a" stroke-width="1.5">8h</text>
<line x1="300.2" y1="216.08" x2="300.2" y2="223.49" stroke="#000" stroke-width="0.7" stroke-linecap="butt"/>
<line x1="298.9" y1="216.08" x2="301.5" y2="216.08" stroke="#000" stroke-width="0.7" stroke-linecap="butt"/>
<line x1="325.8" y1="220.36" x2="325.8" y2="224.81" stroke="#000" stroke-width="0.7" stroke-linecap="butt"/>
<line x1="324.5" y1="220.36" x2="327.1" y2="220.36" stroke="#000" stroke-width="0.7" stroke-linecap="butt"/>
<line x1="351.4" y1="228.59" x2="351.4" y2="230.41" stroke="#000" stroke-width="0.7" stroke-linecap="butt"/>
<line x1="350.1" y1="228.59" x2="352.7" y2="228.59" stroke="#000" stroke-width="0.7" stroke-linecap="butt"/>
<line x1="377" y1="232.55" x2="377" y2="233.21" stroke="#000" stroke-width="0.7" stroke-linecap="butt"/>
<line x1="375.7" y1="232.55" x2="378.3" y2="232.55" stroke="#000" stroke-width="0.7" stroke-linecap="butt"/>
<polyline points="274.6,184.29 300.2,223.49 325.8,224.81 351.4,230.41 377,233.21" fill="none" stroke="#000" stroke-width="0.85" stroke-linejoin="round"/>
<circle cx="274.6" cy="184.29" r="0.71" fill="#ccc" stroke="#333" stroke-width="0.45"/>
<circle cx="300.2" cy="223.49" r="0.71" fill="#ccc" stroke="#333" stroke-width="0.45"/>
<circle cx="325.8" cy="224.81" r="0.71" fill="#ccc" stroke="#333" stroke-width="0.45"/>
<circle cx="351.4" cy="230.41" r="0.71" fill="#ccc" stroke="#333" stroke-width="0.45"/>
<circle cx="377" cy="233.21" r="0.71" fill="#ccc" stroke="#333" stroke-width="0.45"/>
<line x1="300.2" y1="207.68" x2="300.2" y2="209" stroke="#000" stroke-width="0.7" stroke-linecap="butt"/>
<line x1="298.9" y1="207.68" x2="301.5" y2="207.68" stroke="#000" stroke-width="0.7" stroke-linecap="butt"/>
<line x1="325.8" y1="205.37" x2="325.8" y2="208.34" stroke="#000" stroke-width="0.7" stroke-linecap="butt"/>
<line x1="324.5" y1="205.37" x2="327.1" y2="205.37" stroke="#000" stroke-width="0.7" stroke-linecap="butt"/>
<line x1="351.4" y1="207.51" x2="351.4" y2="212.62" stroke="#000" stroke-width="0.7" stroke-linecap="butt"/>
<line x1="350.1" y1="207.51" x2="352.7" y2="207.51" stroke="#000" stroke-width="0.7" stroke-linecap="butt"/>
<line x1="377" y1="211.3" x2="377" y2="212.95" stroke="#000" stroke-width="0.7" stroke-linecap="butt"/>
<line x1="375.7" y1="211.3" x2="378.3" y2="211.3" stroke="#000" stroke-width="0.7" stroke-linecap="butt"/>
<polyline points="274.6,184.29 300.2,209 325.8,208.34 351.4,212.62 377,212.95" fill="none" stroke="#000" stroke-width="0.85" stroke-linejoin="round"/>
<path d="M273.34 184.29L274.6 183.03L275.87 184.29L274.6 185.55Z" fill="#000"/>
<path d="M298.94 209L300.2 207.73L301.47 209L300.2 210.26Z" fill="#000"/>
<path d="M324.54 208.34L325.8 207.07L327.06 208.34L325.8 209.6Z" fill="#000"/>
<path d="M350.14 212.62L351.4 211.35L352.67 212.62L351.4 213.88Z" fill="#000"/>
<path d="M375.74 212.95L377 211.68L378.26 212.95L377 214.21Z" fill="#000"/>
<line x1="300.2" y1="202.9" x2="300.2" y2="204.55" stroke="#000" stroke-width="0.7" stroke-linecap="butt"/>
<line x1="298.9" y1="202.9" x2="301.5" y2="202.9" stroke="#000" stroke-width="0.7" stroke-linecap="butt"/>
<line x1="325.8" y1="201.09" x2="325.8" y2="202.41" stroke="#000" stroke-width="0.7" stroke-linecap="butt"/>
<line x1="324.5" y1="201.09" x2="327.1" y2="201.09" stroke="#000" stroke-width="0.7" stroke-linecap="butt"/>
<line x1="351.4" y1="198.45" x2="351.4" y2="204.38" stroke="#000" stroke-width="0.7" stroke-linecap="butt"/>
<line x1="350.1" y1="198.45" x2="352.7" y2="198.45" stroke="#000" stroke-width="0.7" stroke-linecap="butt"/>
<line x1="377" y1="201.09" x2="377" y2="204.71" stroke="#000" stroke-width="0.7" stroke-linecap="butt"/>
<line x1="375.7" y1="201.09" x2="378.3" y2="201.09" stroke="#000" stroke-width="0.7" stroke-linecap="butt"/>
<polyline points="274.6,184.29 300.2,204.55 325.8,202.41 351.4,204.38 377,204.71" fill="none" stroke="#000" stroke-width="0.85" stroke-linejoin="round"/>
<path d="M273.34 183.37L275.87 183.37L274.6 185.55Z" fill="#000"/>
<path d="M298.94 203.63L301.47 203.63L300.2 205.81Z" fill="#000"/>
<path d="M324.54 201.49L327.06 201.49L325.8 203.67Z" fill="#000"/>
<path d="M350.14 203.46L352.67 203.46L351.4 205.65Z" fill="#000"/>
<path d="M375.74 203.79L378.26 203.79L377 205.98Z" fill="#000"/>
<line x1="300.2" y1="188.9" x2="300.2" y2="190.88" stroke="#000" stroke-width="0.7" stroke-linecap="butt"/>
<line x1="298.9" y1="188.9" x2="301.5" y2="188.9" stroke="#000" stroke-width="0.7" stroke-linecap="butt"/>
<line x1="325.8" y1="185.77" x2="325.8" y2="187.42" stroke="#000" stroke-width="0.7" stroke-linecap="butt"/>
<line x1="324.5" y1="185.77" x2="327.1" y2="185.77" stroke="#000" stroke-width="0.7" stroke-linecap="butt"/>
<line x1="351.4" y1="186.27" x2="351.4" y2="188.9" stroke="#000" stroke-width="0.7" stroke-linecap="butt"/>
<line x1="350.1" y1="186.27" x2="352.7" y2="186.27" stroke="#000" stroke-width="0.7" stroke-linecap="butt"/>
<line x1="377" y1="185.61" x2="377" y2="189.56" stroke="#000" stroke-width="0.7" stroke-linecap="butt"/>
<line x1="375.7" y1="185.61" x2="378.3" y2="185.61" stroke="#000" stroke-width="0.7" stroke-linecap="butt"/>
<polyline points="274.6,184.29 300.2,190.88 325.8,187.42 351.4,188.9 377,189.56" fill="none" stroke="#000" stroke-width="0.85" stroke-linejoin="round"/>
<path d="M273.34 185.21L275.87 185.21L274.6 183.03Z" fill="#000"/>
<path d="M298.94 191.8L301.47 191.8L300.2 189.61Z" fill="#000"/>
<path d="M324.54 188.34L327.06 188.34L325.8 186.15Z" fill="#000"/>
<path d="M350.14 189.82L352.67 189.82L351.4 187.64Z" fill="#000"/>
<path d="M375.74 190.48L378.26 190.48L377 188.3Z" fill="#000"/>
<line x1="300.2" y1="183.3" x2="300.2" y2="184.95" stroke="#000" stroke-width="0.7" stroke-linecap="butt"/>
<line x1="298.9" y1="183.3" x2="301.5" y2="183.3" stroke="#000" stroke-width="0.7" stroke-linecap="butt"/>
<line x1="325.8" y1="183.3" x2="325.8" y2="184.62" stroke="#000" stroke-width="0.7" stroke-linecap="butt"/>
<line x1="324.5" y1="183.3" x2="327.1" y2="183.3" stroke="#000" stroke-width="0.7" stroke-linecap="butt"/>
<line x1="351.4" y1="182.48" x2="351.4" y2="184.13" stroke="#000" stroke-width="0.7" stroke-linecap="butt"/>
<line x1="350.1" y1="182.48" x2="352.7" y2="182.48" stroke="#000" stroke-width="0.7" stroke-linecap="butt"/>
<line x1="377" y1="179.18" x2="377" y2="180.17" stroke="#000" stroke-width="0.7" stroke-linecap="butt"/>
<line x1="375.7" y1="179.18" x2="378.3" y2="179.18" stroke="#000" stroke-width="0.7" stroke-linecap="butt"/>
<polyline points="274.6,184.29 300.2,184.95 325.8,184.62 351.4,184.13 377,180.17" fill="none" stroke="#000" stroke-width="0.85" stroke-linejoin="round"/>
<rect x="273.51" y="183.2" width="2.18" height="2.18" fill="#000"/>
<rect x="299.11" y="183.86" width="2.18" height="2.18" fill="#000"/>
<rect x="324.71" y="183.53" width="2.18" height="2.18" fill="#000"/>
<rect x="350.31" y="183.03" width="2.18" height="2.18" fill="#000"/>
<rect x="375.91" y="179.08" width="2.18" height="2.18" fill="#000"/>
<line x1="300.2" y1="175.07" x2="300.2" y2="179.84" stroke="#000" stroke-width="0.7" stroke-linecap="butt"/>
<line x1="298.9" y1="175.07" x2="301.5" y2="175.07" stroke="#000" stroke-width="0.7" stroke-linecap="butt"/>
<line x1="325.8" y1="180.67" x2="325.8" y2="181.98" stroke="#000" stroke-width="0.7" stroke-linecap="butt"/>
<line x1="324.5" y1="180.67" x2="327.1" y2="180.67" stroke="#000" stroke-width="0.7" stroke-linecap="butt"/>
<line x1="351.4" y1="177.37" x2="351.4" y2="179.68" stroke="#000" stroke-width="0.7" stroke-linecap="butt"/>
<line x1="350.1" y1="177.37" x2="352.7" y2="177.37" stroke="#000" stroke-width="0.7" stroke-linecap="butt"/>
<line x1="377" y1="176.38" x2="377" y2="180.17" stroke="#000" stroke-width="0.7" stroke-linecap="butt"/>
<line x1="375.7" y1="176.38" x2="378.3" y2="176.38" stroke="#000" stroke-width="0.7" stroke-linecap="butt"/>
<polyline points="274.6,184.29 300.2,179.84 325.8,181.98 351.4,179.68 377,180.17" fill="none" stroke="#000" stroke-width="0.85" stroke-linejoin="round"/>
<circle cx="274.6" cy="184.29" r="1.15" fill="#000"/>
<circle cx="300.2" cy="179.84" r="1.15" fill="#000"/>
<circle cx="325.8" cy="181.98" r="1.15" fill="#000"/>
<circle cx="351.4" cy="179.68" r="1.15" fill="#000"/>
<circle cx="377" cy="180.17" r="1.15" fill="#000"/>
<line x1="381.2" y1="179.2" x2="387.7" y2="179.2" stroke="#000" stroke-width="1" stroke-linecap="butt"/>
<line x1="387.2" y1="178.7" x2="387.2" y2="221.7" stroke="#000" stroke-width="1" stroke-linecap="butt"/>
<line x1="380.3" y1="221.2" x2="387.7" y2="221.2" stroke="#000" stroke-width="1" stroke-linecap="butt"/>
<line x1="380.3" y1="202.4" x2="380.3" y2="234" stroke="#000" stroke-width="1" stroke-linecap="butt"/>
<text transform="translate(295.3 196.94) scale(0.1)" font-size="48" text-anchor="start" fill="#222" font-weight="bold" textLength="106" lengthAdjust="spacing" stroke="#222" stroke-width="0.5">****</text>
<text transform="translate(347.8 195.44) scale(0.1)" font-size="48" text-anchor="start" fill="#222" font-weight="bold" textLength="70" lengthAdjust="spacing" stroke="#222" stroke-width="0.5">***</text>
<text transform="translate(373.1 196.24) scale(0.1)" font-size="48" text-anchor="start" fill="#222" font-weight="bold" textLength="70" lengthAdjust="spacing" stroke="#222" stroke-width="0.5">***</text>
<text transform="translate(388.1 200.94) scale(0.1)" font-size="48" text-anchor="start" fill="#222" font-weight="bold" textLength="102" lengthAdjust="spacing" stroke="#222" stroke-width="0.5">****</text>
<text transform="translate(226.4 193.1) rotate(-90) scale(0.1)" font-size="57" text-anchor="middle" fill="#0a0a0a" font-weight="bold" textLength="597" lengthAdjust="spacing" stroke="#0a0a0a" stroke-width="2">Number of cells/mL</text>
<line x1="402.3" y1="175.8" x2="409.1" y2="175.8" stroke="#000" stroke-width="0.85" stroke-linecap="butt"/>
<circle cx="405.7" cy="175.8" r="1.2" fill="#000"/>
<text transform="translate(413.3 177.67) scale(0.1)" font-size="52" text-anchor="start" fill="#0a0a0a" font-weight="bold" textLength="101" lengthAdjust="spacing" stroke="#0a0a0a" stroke-width="2">CO</text>
<line x1="402.3" y1="182.85" x2="409.1" y2="182.85" stroke="#000" stroke-width="0.85" stroke-linecap="butt"/>
<rect x="404.56" y="181.71" width="2.28" height="2.28" fill="#000"/>
<text transform="translate(413.3 184.72) scale(0.1)" font-size="52" text-anchor="start" fill="#0a0a0a" font-weight="bold" textLength="141" lengthAdjust="spacing" stroke="#0a0a0a" stroke-width="2">1pM</text>
<line x1="402.3" y1="189.9" x2="409.1" y2="189.9" stroke="#000" stroke-width="0.85" stroke-linecap="butt"/>
<path d="M404.38 190.86L407.02 190.86L405.7 188.58Z" fill="#000"/>
<text transform="translate(413.3 191.77) scale(0.1)" font-size="52" text-anchor="start" fill="#0a0a0a" font-weight="bold" textLength="141" lengthAdjust="spacing" stroke="#0a0a0a" stroke-width="2">5pM</text>
<line x1="402.3" y1="196.95" x2="409.1" y2="196.95" stroke="#000" stroke-width="0.85" stroke-linecap="butt"/>
<path d="M404.38 195.99L407.02 195.99L405.7 198.27Z" fill="#000"/>
<text transform="translate(413.3 198.82) scale(0.1)" font-size="52" text-anchor="start" fill="#0a0a0a" font-weight="bold" textLength="141" lengthAdjust="spacing" stroke="#0a0a0a" stroke-width="2">7pM</text>
<line x1="402.3" y1="204" x2="409.1" y2="204" stroke="#000" stroke-width="0.85" stroke-linecap="butt"/>
<path d="M404.38 204L405.7 202.68L407.02 204L405.7 205.32Z" fill="#000"/>
<text transform="translate(413.3 205.87) scale(0.1)" font-size="52" text-anchor="start" fill="#0a0a0a" font-weight="bold" textLength="187" lengthAdjust="spacing" stroke="#0a0a0a" stroke-width="2">10pM</text>
<line x1="402.3" y1="211.05" x2="409.1" y2="211.05" stroke="#000" stroke-width="0.85" stroke-linecap="butt"/>
<circle cx="405.7" cy="211.05" r="0.74" fill="#ccc" stroke="#333" stroke-width="0.45"/>
<text transform="translate(413.3 212.92) scale(0.1)" font-size="52" text-anchor="start" fill="#0a0a0a" font-weight="bold" textLength="187" lengthAdjust="spacing" stroke="#0a0a0a" stroke-width="2">50pM</text>
<rect x="39.16" y="313.6" width="2.45" height="67.5" fill="#ffffff" stroke="#000" stroke-width="1"/>
<line x1="45.52" y1="311.54" x2="45.52" y2="310.52" stroke="#333" stroke-width="0.65" stroke-linecap="butt"/>
<line x1="44.66" y1="310.52" x2="46.37" y2="310.52" stroke="#333" stroke-width="0.65" stroke-linecap="butt"/>
<rect x="44.29" y="312.04" width="2.45" height="69.06" fill="#f0f0f0" stroke="#000" stroke-width="1"/>
<line x1="50.64" y1="311.54" x2="50.64" y2="310.52" stroke="#333" stroke-width="0.65" stroke-linecap="butt"/>
<line x1="49.79" y1="310.52" x2="51.49" y2="310.52" stroke="#333" stroke-width="0.65" stroke-linecap="butt"/>
<rect x="49.42" y="312.04" width="2.45" height="69.06" fill="#cdcdcd" stroke="#000" stroke-width="1"/>
<line x1="55.77" y1="314.66" x2="55.77" y2="313.85" stroke="#333" stroke-width="0.65" stroke-linecap="butt"/>
<line x1="54.92" y1="313.85" x2="56.62" y2="313.85" stroke="#333" stroke-width="0.65" stroke-linecap="butt"/>
<rect x="54.55" y="315.16" width="2.45" height="65.94" fill="#a4a4a4" stroke="#000" stroke-width="1"/>
<line x1="60.9" y1="320.58" x2="60.9" y2="318.34" stroke="#333" stroke-width="0.65" stroke-linecap="butt"/>
<line x1="60.05" y1="318.34" x2="61.75" y2="318.34" stroke="#333" stroke-width="0.65" stroke-linecap="butt"/>
<rect x="59.68" y="321.08" width="2.45" height="60.02" fill="#5a5a5a" stroke="#000" stroke-width="1"/>
<line x1="66.03" y1="321.06" x2="66.03" y2="316.09" stroke="#333" stroke-width="0.65" stroke-linecap="butt"/>
<line x1="65.19" y1="316.09" x2="66.88" y2="316.09" stroke="#333" stroke-width="0.65" stroke-linecap="butt"/>
<rect x="64.81" y="321.56" width="2.45" height="59.54" fill="#000000" stroke="#000" stroke-width="1"/>
<rect x="73.21" y="313.6" width="2.45" height="67.5" fill="#ffffff" stroke="#000" stroke-width="1"/>
<line x1="79.56" y1="314.32" x2="79.56" y2="313.64" stroke="#333" stroke-width="0.65" stroke-linecap="butt"/>
<line x1="78.71" y1="313.64" x2="80.41" y2="313.64" stroke="#333" stroke-width="0.65" stroke-linecap="butt"/>
<rect x="78.34" y="314.82" width="2.45" height="66.28" fill="#f0f0f0" stroke="#000" stroke-width="1"/>
<line x1="84.69" y1="314.32" x2="84.69" y2="313.78" stroke="#333" stroke-width="0.65" stroke-linecap="butt"/>
<line x1="83.84" y1="313.78" x2="85.54" y2="313.78" stroke="#333" stroke-width="0.65" stroke-linecap="butt"/>
<rect x="83.47" y="314.82" width="2.45" height="66.28" fill="#cdcdcd" stroke="#000" stroke-width="1"/>
<line x1="89.82" y1="317.93" x2="89.82" y2="313.85" stroke="#333" stroke-width="0.65" stroke-linecap="butt"/>
<line x1="88.97" y1="313.85" x2="90.67" y2="313.85" stroke="#333" stroke-width="0.65" stroke-linecap="butt"/>
<rect x="88.6" y="318.43" width="2.45" height="62.67" fill="#a4a4a4" stroke="#000" stroke-width="1"/>
<line x1="94.95" y1="318.88" x2="94.95" y2="316.84" stroke="#333" stroke-width="0.65" stroke-linecap="butt"/>
<line x1="94.1" y1="316.84" x2="95.8" y2="316.84" stroke="#333" stroke-width="0.65" stroke-linecap="butt"/>
<rect x="93.73" y="319.38" width="2.45" height="61.72" fill="#5a5a5a" stroke="#000" stroke-width="1"/>
<line x1="100.08" y1="325.61" x2="100.08" y2="312.83" stroke="#333" stroke-width="0.65" stroke-linecap="butt"/>
<line x1="99.23" y1="312.83" x2="100.93" y2="312.83" stroke="#333" stroke-width="0.65" stroke-linecap="butt"/>
<rect x="98.86" y="326.11" width="2.45" height="54.99" fill="#000000" stroke="#000" stroke-width="1"/>
<rect x="107.26" y="313.6" width="2.45" height="67.5" fill="#ffffff" stroke="#000" stroke-width="1"/>
<line x1="113.61" y1="312.76" x2="113.61" y2="311.4" stroke="#333" stroke-width="0.65" stroke-linecap="butt"/>
<line x1="112.76" y1="311.4" x2="114.46" y2="311.4" stroke="#333" stroke-width="0.65" stroke-linecap="butt"/>
<rect x="112.39" y="313.26" width="2.45" height="67.84" fill="#f0f0f0" stroke="#000" stroke-width="1"/>
<line x1="118.74" y1="313.78" x2="118.74" y2="312.08" stroke="#333" stroke-width="0.65" stroke-linecap="butt"/>
<line x1="117.89" y1="312.08" x2="119.59" y2="312.08" stroke="#333" stroke-width="0.65" stroke-linecap="butt"/>
<rect x="117.52" y="314.28" width="2.45" height="66.82" fill="#cdcdcd" stroke="#000" stroke-width="1"/>
<line x1="123.87" y1="318.34" x2="123.87" y2="314.66" stroke="#333" stroke-width="0.65" stroke-linecap="butt"/>
<line x1="123.02" y1="314.66" x2="124.72" y2="314.66" stroke="#333" stroke-width="0.65" stroke-linecap="butt"/>
<rect x="122.65" y="318.84" width="2.45" height="62.26" fill="#a4a4a4" stroke="#000" stroke-width="1"/>
<line x1="129" y1="342.41" x2="129" y2="324.73" stroke="#333" stroke-width="0.65" stroke-linecap="butt"/>
<line x1="128.16" y1="324.73" x2="129.85" y2="324.73" stroke="#333" stroke-width="0.65" stroke-linecap="butt"/>
<rect x="127.78" y="342.91" width="2.45" height="38.19" fill="#5a5a5a" stroke="#000" stroke-width="1"/>
<line x1="134.13" y1="332" x2="134.13" y2="318.88" stroke="#333" stroke-width="0.65" stroke-linecap="butt"/>
<line x1="133.28" y1="318.88" x2="134.98" y2="318.88" stroke="#333" stroke-width="0.65" stroke-linecap="butt"/>
<rect x="132.91" y="332.5" width="2.45" height="48.6" fill="#000000" stroke="#000" stroke-width="1"/>
<rect x="141.31" y="313.6" width="2.45" height="67.5" fill="#ffffff" stroke="#000" stroke-width="1"/>
<rect x="146.44" y="313.6" width="2.45" height="67.5" fill="#f0f0f0" stroke="#000" stroke-width="1"/>
<line x1="152.79" y1="315.21" x2="152.79" y2="314.66" stroke="#333" stroke-width="0.65" stroke-linecap="butt"/>
<line x1="151.94" y1="314.66" x2="153.64" y2="314.66" stroke="#333" stroke-width="0.65" stroke-linecap="butt"/>
<rect x="151.57" y="315.71" width="2.45" height="65.39" fill="#cdcdcd" stroke="#000" stroke-width="1"/>
<line x1="157.92" y1="317.04" x2="157.92" y2="316.5" stroke="#333" stroke-width="0.65" stroke-linecap="butt"/>
<line x1="157.07" y1="316.5" x2="158.77" y2="316.5" stroke="#333" stroke-width="0.65" stroke-linecap="butt"/>
<rect x="156.7" y="317.54" width="2.45" height="63.56" fill="#a4a4a4" stroke="#000" stroke-width="1"/>
<line x1="163.06" y1="370.9" x2="163.06" y2="360.84" stroke="#333" stroke-width="0.65" stroke-linecap="butt"/>
<line x1="162.21" y1="360.84" x2="163.91" y2="360.84" stroke="#333" stroke-width="0.65" stroke-linecap="butt"/>
<rect x="161.83" y="371.4" width="2.45" height="9.7" fill="#5a5a5a" stroke="#000" stroke-width="1"/>
<line x1="168.19" y1="380.42" x2="168.19" y2="379.6" stroke="#333" stroke-width="0.65" stroke-linecap="butt"/>
<line x1="167.34" y1="379.6" x2="169.03" y2="379.6" stroke="#333" stroke-width="0.65" stroke-linecap="butt"/>
<rect x="166.96" y="380.92" width="2.45" height="0.18" fill="#000000" stroke="#000" stroke-width="1"/>
<text transform="translate(99.19 311.93) scale(0.1)" font-size="46" text-anchor="start" fill="#222" font-weight="bold" stroke="#222" stroke-width="0.5">*</text>
<text transform="translate(124.91 324.83) scale(0.1)" font-size="46" text-anchor="start" fill="#222" font-weight="bold" textLength="82" lengthAdjust="spacing" stroke="#222" stroke-width="0.5">****</text>
<text transform="translate(131.06 318.73) scale(0.1)" font-size="46" text-anchor="start" fill="#222" font-weight="bold" textLength="61.5" lengthAdjust="spacing" stroke="#222" stroke-width="0.5">***</text>
<text transform="translate(159.76 360.23) scale(0.1)" font-size="46" text-anchor="start" fill="#222" font-weight="bold" textLength="82" lengthAdjust="spacing" stroke="#222" stroke-width="0.5">****</text>
<text transform="translate(165.28 379.13) scale(0.1)" font-size="46" text-anchor="start" fill="#222" font-weight="bold" textLength="82" lengthAdjust="spacing" stroke="#222" stroke-width="0.5">****</text>
<line x1="36.3" y1="299.1" x2="36.3" y2="381.6" stroke="#000" stroke-width="1" stroke-linecap="butt"/>
<line x1="35.8" y1="381.1" x2="172.7" y2="381.1" stroke="#000" stroke-width="1" stroke-linecap="butt"/>
<line x1="34.7" y1="381.1" x2="36.3" y2="381.1" stroke="#000" stroke-width="0.8" stroke-linecap="butt"/>
<text transform="translate(29.9 383.16) scale(0.1)" font-size="49" text-anchor="start" fill="#0a0a0a" font-weight="bold" stroke="#0a0a0a" stroke-width="2">0</text>
<line x1="34.7" y1="367.5" x2="36.3" y2="367.5" stroke="#000" stroke-width="0.8" stroke-linecap="butt"/>
<text transform="translate(26.4 369.56) scale(0.1)" font-size="49" text-anchor="start" fill="#0a0a0a" font-weight="bold" textLength="65" lengthAdjust="spacing" stroke="#0a0a0a" stroke-width="2">20</text>
<line x1="34.7" y1="353.9" x2="36.3" y2="353.9" stroke="#000" stroke-width="0.8" stroke-linecap="butt"/>
<text transform="translate(26.4 355.96) scale(0.1)" font-size="49" text-anchor="start" fill="#0a0a0a" font-weight="bold" textLength="65" lengthAdjust="spacing" stroke="#0a0a0a" stroke-width="2">40</text>
<line x1="34.7" y1="340.3" x2="36.3" y2="340.3" stroke="#000" stroke-width="0.8" stroke-linecap="butt"/>
<text transform="translate(26.4 342.36) scale(0.1)" font-size="49" text-anchor="start" fill="#0a0a0a" font-weight="bold" textLength="65" lengthAdjust="spacing" stroke="#0a0a0a" stroke-width="2">60</text>
<line x1="34.7" y1="326.7" x2="36.3" y2="326.7" stroke="#000" stroke-width="0.8" stroke-linecap="butt"/>
<text transform="translate(26.4 328.76) scale(0.1)" font-size="49" text-anchor="start" fill="#0a0a0a" font-weight="bold" textLength="65" lengthAdjust="spacing" stroke="#0a0a0a" stroke-width="2">80</text>
<line x1="34.7" y1="313.1" x2="36.3" y2="313.1" stroke="#000" stroke-width="0.8" stroke-linecap="butt"/>
<text transform="translate(22.6 315.16) scale(0.1)" font-size="49" text-anchor="start" fill="#0a0a0a" font-weight="bold" textLength="103" lengthAdjust="spacing" stroke="#0a0a0a" stroke-width="2">100</text>
<line x1="34.7" y1="299.5" x2="36.3" y2="299.5" stroke="#000" stroke-width="0.8" stroke-linecap="butt"/>
<text transform="translate(22.6 301.56) scale(0.1)" font-size="49" text-anchor="start" fill="#0a0a0a" font-weight="bold" textLength="103" lengthAdjust="spacing" stroke="#0a0a0a" stroke-width="2">120</text>
<line x1="53.21" y1="381.1" x2="53.21" y2="382.7" stroke="#000" stroke-width="0.8" stroke-linecap="butt"/>
<text transform="translate(54.71 390.4) rotate(-45) scale(0.1)" font-size="49" text-anchor="end" fill="#0a0a0a" font-weight="bold" textLength="60" lengthAdjust="spacing" stroke="#0a0a0a" stroke-width="1.5">2h</text>
<line x1="87.26" y1="381.1" x2="87.26" y2="382.7" stroke="#000" stroke-width="0.8" stroke-linecap="butt"/>
<text transform="translate(88.76 390.4) rotate(-45) scale(0.1)" font-size="49" text-anchor="end" fill="#0a0a0a" font-weight="bold" textLength="60" lengthAdjust="spacing" stroke="#0a0a0a" stroke-width="1.5">4h</text>
<line x1="121.31" y1="381.1" x2="121.31" y2="382.7" stroke="#000" stroke-width="0.8" stroke-linecap="butt"/>
<text transform="translate(122.81 390.4) rotate(-45) scale(0.1)" font-size="49" text-anchor="end" fill="#0a0a0a" font-weight="bold" textLength="60" lengthAdjust="spacing" stroke="#0a0a0a" stroke-width="1.5">6h</text>
<line x1="155.36" y1="381.1" x2="155.36" y2="382.7" stroke="#000" stroke-width="0.8" stroke-linecap="butt"/>
<text transform="translate(156.86 390.4) rotate(-45) scale(0.1)" font-size="49" text-anchor="end" fill="#0a0a0a" font-weight="bold" textLength="60" lengthAdjust="spacing" stroke="#0a0a0a" stroke-width="1.5">8h</text>
<text transform="translate(15.6 338.4) rotate(-90) scale(0.1)" font-size="57" text-anchor="middle" fill="#0a0a0a" font-weight="bold" textLength="370" lengthAdjust="spacing" stroke="#0a0a0a" stroke-width="2">Viability (%)</text>
<rect x="177.75" y="326.25" width="4.4" height="4.3" fill="#ffffff" stroke="#000" stroke-width="1.1"/>
<text transform="translate(187.1 330.06) scale(0.1)" font-size="46" text-anchor="start" fill="#0a0a0a" font-weight="bold" textLength="89" lengthAdjust="spacing" stroke="#0a0a0a" stroke-width="2">CO</text>
<rect x="177.75" y="332.65" width="4.4" height="4.3" fill="#f0f0f0" stroke="#000" stroke-width="1.1"/>
<text transform="translate(187.1 336.46) scale(0.1)" font-size="46" text-anchor="start" fill="#0a0a0a" font-weight="bold" textLength="124" lengthAdjust="spacing" stroke="#0a0a0a" stroke-width="2">1pM</text>
<rect x="177.75" y="339.05" width="4.4" height="4.3" fill="#cdcdcd" stroke="#000" stroke-width="1.1"/>
<text transform="translate(187.1 342.86) scale(0.1)" font-size="46" text-anchor="start" fill="#0a0a0a" font-weight="bold" textLength="124" lengthAdjust="spacing" stroke="#0a0a0a" stroke-width="2">5pM</text>
<rect x="177.75" y="345.45" width="4.4" height="4.3" fill="#a4a4a4" stroke="#000" stroke-width="1.1"/>
<text transform="translate(187.1 349.26) scale(0.1)" font-size="46" text-anchor="start" fill="#0a0a0a" font-weight="bold" textLength="160" lengthAdjust="spacing" stroke="#0a0a0a" stroke-width="2">10pM</text>
<rect x="177.75" y="351.85" width="4.4" height="4.3" fill="#5a5a5a" stroke="#000" stroke-width="1.1"/>
<text transform="translate(187.1 355.66) scale(0.1)" font-size="46" text-anchor="start" fill="#0a0a0a" font-weight="bold" textLength="160" lengthAdjust="spacing" stroke="#0a0a0a" stroke-width="2">30pM</text>
<rect x="177.75" y="358.25" width="4.4" height="4.3" fill="#000000" stroke="#000" stroke-width="1.1"/>
<text transform="translate(187.1 362.06) scale(0.1)" font-size="46" text-anchor="start" fill="#0a0a0a" font-weight="bold" textLength="160" lengthAdjust="spacing" stroke="#0a0a0a" stroke-width="2">50pM</text>
<text transform="translate(13.5 290.6) scale(0.1)" font-size="60" text-anchor="start" fill="#0a0a0a" font-weight="bold" stroke="#0a0a0a" stroke-width="2">C</text>
<line x1="261.7" y1="299.5" x2="261.7" y2="382.5" stroke="#000" stroke-width="1" stroke-linecap="butt"/>
<line x1="261.2" y1="382" x2="389.9" y2="382" stroke="#000" stroke-width="1" stroke-linecap="butt"/>
<line x1="260.1" y1="382" x2="261.7" y2="382" stroke="#000" stroke-width="0.8" stroke-linecap="butt"/>
<text transform="translate(255.2 384.2) scale(0.1)" font-size="50" text-anchor="start" fill="#0a0a0a" font-weight="bold" stroke="#0a0a0a" stroke-width="2">0</text>
<line x1="260.1" y1="365.58" x2="261.7" y2="365.58" stroke="#000" stroke-width="0.8" stroke-linecap="butt"/>
<text transform="translate(233.2 367.78) scale(0.1)" font-size="50" text-anchor="start" fill="#0a0a0a" font-weight="bold" textLength="247" lengthAdjust="spacing" stroke="#0a0a0a" stroke-width="2">100000</text>
<line x1="260.1" y1="349.16" x2="261.7" y2="349.16" stroke="#000" stroke-width="0.8" stroke-linecap="butt"/>
<text transform="translate(233.2 351.36) scale(0.1)" font-size="50" text-anchor="start" fill="#0a0a0a" font-weight="bold" textLength="247" lengthAdjust="spacing" stroke="#0a0a0a" stroke-width="2">200000</text>
<line x1="260.1" y1="332.74" x2="261.7" y2="332.74" stroke="#000" stroke-width="0.8" stroke-linecap="butt"/>
<text transform="translate(233.2 334.94) scale(0.1)" font-size="50" text-anchor="start" fill="#0a0a0a" font-weight="bold" textLength="247" lengthAdjust="spacing" stroke="#0a0a0a" stroke-width="2">300000</text>
<line x1="260.1" y1="316.32" x2="261.7" y2="316.32" stroke="#000" stroke-width="0.8" stroke-linecap="butt"/>
<text transform="translate(233.2 318.52) scale(0.1)" font-size="50" text-anchor="start" fill="#0a0a0a" font-weight="bold" textLength="247" lengthAdjust="spacing" stroke="#0a0a0a" stroke-width="2">400000</text>
<line x1="260.1" y1="299.9" x2="261.7" y2="299.9" stroke="#000" stroke-width="0.8" stroke-linecap="butt"/>
<text transform="translate(233.2 302.1) scale(0.1)" font-size="50" text-anchor="start" fill="#0a0a0a" font-weight="bold" textLength="247" lengthAdjust="spacing" stroke="#0a0a0a" stroke-width="2">500000</text>
<line x1="274.6" y1="382" x2="274.6" y2="383.6" stroke="#000" stroke-width="0.8" stroke-linecap="butt"/>
<text transform="translate(276.1 391.5) rotate(-45) scale(0.1)" font-size="50" text-anchor="end" fill="#0a0a0a" font-weight="bold" textLength="62" lengthAdjust="spacing" stroke="#0a0a0a" stroke-width="1.5">0h</text>
<line x1="300.2" y1="382" x2="300.2" y2="383.6" stroke="#000" stroke-width="0.8" stroke-linecap="butt"/>
<text transform="translate(301.7 391.5) rotate(-45) scale(0.1)" font-size="50" text-anchor="end" fill="#0a0a0a" font-weight="bold" textLength="62" lengthAdjust="spacing" stroke="#0a0a0a" stroke-width="1.5">2h</text>
<line x1="325.8" y1="382" x2="325.8" y2="383.6" stroke="#000" stroke-width="0.8" stroke-linecap="butt"/>
<text transform="translate(327.3 391.5) rotate(-45) scale(0.1)" font-size="50" text-anchor="end" fill="#0a0a0a" font-weight="bold" textLength="62" lengthAdjust="spacing" stroke="#0a0a0a" stroke-width="1.5">4h</text>
<line x1="351.4" y1="382" x2="351.4" y2="383.6" stroke="#000" stroke-width="0.8" stroke-linecap="butt"/>
<text transform="translate(352.9 391.5) rotate(-45) scale(0.1)" font-size="50" text-anchor="end" fill="#0a0a0a" font-weight="bold" textLength="62" lengthAdjust="spacing" stroke="#0a0a0a" stroke-width="1.5">6h</text>
<line x1="377" y1="382" x2="377" y2="383.6" stroke="#000" stroke-width="0.8" stroke-linecap="butt"/>
<text transform="translate(378.5 391.5) rotate(-45) scale(0.1)" font-size="50" text-anchor="end" fill="#0a0a0a" font-weight="bold" textLength="62" lengthAdjust="spacing" stroke="#0a0a0a" stroke-width="1.5">8h</text>
<line x1="300.2" y1="362.3" x2="300.2" y2="364.27" stroke="#000" stroke-width="0.7" stroke-linecap="butt"/>
<line x1="298.9" y1="362.3" x2="301.5" y2="362.3" stroke="#000" stroke-width="0.7" stroke-linecap="butt"/>
<line x1="325.8" y1="361.15" x2="325.8" y2="368.04" stroke="#000" stroke-width="0.7" stroke-linecap="butt"/>
<line x1="324.5" y1="361.15" x2="327.1" y2="361.15" stroke="#000" stroke-width="0.7" stroke-linecap="butt"/>
<line x1="351.4" y1="369.85" x2="351.4" y2="374.78" stroke="#000" stroke-width="0.7" stroke-linecap="butt"/>
<line x1="350.1" y1="369.85" x2="352.7" y2="369.85" stroke="#000" stroke-width="0.7" stroke-linecap="butt"/>
<line x1="377" y1="378.39" x2="377" y2="381.67" stroke="#000" stroke-width="0.7" stroke-linecap="butt"/>
<line x1="375.7" y1="378.39" x2="378.3" y2="378.39" stroke="#000" stroke-width="0.7" stroke-linecap="butt"/>
<polyline points="274.6,332.74 300.2,364.27 325.8,368.04 351.4,374.78 377,381.67" fill="none" stroke="#000" stroke-width="0.85" stroke-linejoin="round"/>
<circle cx="274.6" cy="332.74" r="0.71" fill="#ccc" stroke="#333" stroke-width="0.45"/>
<circle cx="300.2" cy="364.27" r="0.71" fill="#ccc" stroke="#333" stroke-width="0.45"/>
<circle cx="325.8" cy="368.04" r="0.71" fill="#ccc" stroke="#333" stroke-width="0.45"/>
<circle cx="351.4" cy="374.78" r="0.71" fill="#ccc" stroke="#333" stroke-width="0.45"/>
<circle cx="377" cy="381.67" r="0.71" fill="#ccc" stroke="#333" stroke-width="0.45"/>
<line x1="300.2" y1="353.76" x2="300.2" y2="357.86" stroke="#000" stroke-width="0.7" stroke-linecap="butt"/>
<line x1="298.9" y1="353.76" x2="301.5" y2="353.76" stroke="#000" stroke-width="0.7" stroke-linecap="butt"/>
<line x1="325.8" y1="353.76" x2="325.8" y2="359.34" stroke="#000" stroke-width="0.7" stroke-linecap="butt"/>
<line x1="324.5" y1="353.76" x2="327.1" y2="353.76" stroke="#000" stroke-width="0.7" stroke-linecap="butt"/>
<line x1="351.4" y1="364.27" x2="351.4" y2="370.34" stroke="#000" stroke-width="0.7" stroke-linecap="butt"/>
<line x1="350.1" y1="364.27" x2="352.7" y2="364.27" stroke="#000" stroke-width="0.7" stroke-linecap="butt"/>
<line x1="377" y1="372.64" x2="377" y2="378.55" stroke="#000" stroke-width="0.7" stroke-linecap="butt"/>
<line x1="375.7" y1="372.64" x2="378.3" y2="372.64" stroke="#000" stroke-width="0.7" stroke-linecap="butt"/>
<polyline points="274.6,332.74 300.2,357.86 325.8,359.34 351.4,370.34 377,378.55" fill="none" stroke="#000" stroke-width="0.85" stroke-linejoin="round"/>
<path d="M273.34 332.74L274.6 331.48L275.87 332.74L274.6 334Z" fill="#000"/>
<path d="M298.94 357.86L300.2 356.6L301.47 357.86L300.2 359.13Z" fill="#000"/>
<path d="M324.54 359.34L325.8 358.08L327.06 359.34L325.8 360.61Z" fill="#000"/>
<path d="M350.14 370.34L351.4 369.08L352.67 370.34L351.4 371.61Z" fill="#000"/>
<path d="M375.74 378.55L377 377.29L378.26 378.55L377 379.82Z" fill="#000"/>
<line x1="300.2" y1="339.31" x2="300.2" y2="345.55" stroke="#000" stroke-width="0.7" stroke-linecap="butt"/>
<line x1="298.9" y1="339.31" x2="301.5" y2="339.31" stroke="#000" stroke-width="0.7" stroke-linecap="butt"/>
<line x1="325.8" y1="341.77" x2="325.8" y2="343.74" stroke="#000" stroke-width="0.7" stroke-linecap="butt"/>
<line x1="324.5" y1="341.77" x2="327.1" y2="341.77" stroke="#000" stroke-width="0.7" stroke-linecap="butt"/>
<line x1="351.4" y1="348.34" x2="351.4" y2="352.94" stroke="#000" stroke-width="0.7" stroke-linecap="butt"/>
<line x1="350.1" y1="348.34" x2="352.7" y2="348.34" stroke="#000" stroke-width="0.7" stroke-linecap="butt"/>
<line x1="377" y1="347.03" x2="377" y2="349.32" stroke="#000" stroke-width="0.7" stroke-linecap="butt"/>
<line x1="375.7" y1="347.03" x2="378.3" y2="347.03" stroke="#000" stroke-width="0.7" stroke-linecap="butt"/>
<polyline points="274.6,332.74 300.2,345.55 325.8,343.74 351.4,352.94 377,349.32" fill="none" stroke="#000" stroke-width="0.85" stroke-linejoin="round"/>
<path d="M273.34 331.82L275.87 331.82L274.6 334Z" fill="#000"/>
<path d="M298.94 344.63L301.47 344.63L300.2 346.81Z" fill="#000"/>
<path d="M324.54 342.82L327.06 342.82L325.8 345.01Z" fill="#000"/>
<path d="M350.14 352.02L352.67 352.02L351.4 354.2Z" fill="#000"/>
<path d="M375.74 348.4L378.26 348.4L377 350.59Z" fill="#000"/>
<line x1="300.2" y1="333.07" x2="300.2" y2="334.71" stroke="#000" stroke-width="0.7" stroke-linecap="butt"/>
<line x1="298.9" y1="333.07" x2="301.5" y2="333.07" stroke="#000" stroke-width="0.7" stroke-linecap="butt"/>
<line x1="325.8" y1="335.04" x2="325.8" y2="337.34" stroke="#000" stroke-width="0.7" stroke-linecap="butt"/>
<line x1="324.5" y1="335.04" x2="327.1" y2="335.04" stroke="#000" stroke-width="0.7" stroke-linecap="butt"/>
<line x1="351.4" y1="332.74" x2="351.4" y2="336.02" stroke="#000" stroke-width="0.7" stroke-linecap="butt"/>
<line x1="350.1" y1="332.74" x2="352.7" y2="332.74" stroke="#000" stroke-width="0.7" stroke-linecap="butt"/>
<line x1="377" y1="336.52" x2="377" y2="340.95" stroke="#000" stroke-width="0.7" stroke-linecap="butt"/>
<line x1="375.7" y1="336.52" x2="378.3" y2="336.52" stroke="#000" stroke-width="0.7" stroke-linecap="butt"/>
<polyline points="274.6,332.74 300.2,334.71 325.8,337.34 351.4,336.02 377,340.95" fill="none" stroke="#000" stroke-width="0.85" stroke-linejoin="round"/>
<path d="M273.34 333.66L275.87 333.66L274.6 331.48Z" fill="#000"/>
<path d="M298.94 335.63L301.47 335.63L300.2 333.45Z" fill="#000"/>
<path d="M324.54 338.26L327.06 338.26L325.8 336.07Z" fill="#000"/>
<path d="M350.14 336.94L352.67 336.94L351.4 334.76Z" fill="#000"/>
<path d="M375.74 341.87L378.26 341.87L377 339.69Z" fill="#000"/>
<line x1="300.2" y1="330.61" x2="300.2" y2="331.92" stroke="#000" stroke-width="0.7" stroke-linecap="butt"/>
<line x1="298.9" y1="330.61" x2="301.5" y2="330.61" stroke="#000" stroke-width="0.7" stroke-linecap="butt"/>
<line x1="325.8" y1="329.46" x2="325.8" y2="330.77" stroke="#000" stroke-width="0.7" stroke-linecap="butt"/>
<line x1="324.5" y1="329.46" x2="327.1" y2="329.46" stroke="#000" stroke-width="0.7" stroke-linecap="butt"/>
<line x1="351.4" y1="328.47" x2="351.4" y2="329.46" stroke="#000" stroke-width="0.7" stroke-linecap="butt"/>
<line x1="350.1" y1="328.47" x2="352.7" y2="328.47" stroke="#000" stroke-width="0.7" stroke-linecap="butt"/>
<line x1="377" y1="328.14" x2="377" y2="329.13" stroke="#000" stroke-width="0.7" stroke-linecap="butt"/>
<line x1="375.7" y1="328.14" x2="378.3" y2="328.14" stroke="#000" stroke-width="0.7" stroke-linecap="butt"/>
<polyline points="274.6,332.74 300.2,331.92 325.8,330.77 351.4,329.46 377,329.13" fill="none" stroke="#000" stroke-width="0.85" stroke-linejoin="round"/>
<rect x="273.51" y="331.65" width="2.18" height="2.18" fill="#000"/>
<rect x="299.11" y="330.83" width="2.18" height="2.18" fill="#000"/>
<rect x="324.71" y="329.68" width="2.18" height="2.18" fill="#000"/>
<rect x="350.31" y="328.36" width="2.18" height="2.18" fill="#000"/>
<rect x="375.91" y="328.04" width="2.18" height="2.18" fill="#000"/>
<line x1="300.2" y1="326.66" x2="300.2" y2="328.31" stroke="#000" stroke-width="0.7" stroke-linecap="butt"/>
<line x1="298.9" y1="326.66" x2="301.5" y2="326.66" stroke="#000" stroke-width="0.7" stroke-linecap="butt"/>
<line x1="325.8" y1="329.13" x2="325.8" y2="330.44" stroke="#000" stroke-width="0.7" stroke-linecap="butt"/>
<line x1="324.5" y1="329.13" x2="327.1" y2="329.13" stroke="#000" stroke-width="0.7" stroke-linecap="butt"/>
<line x1="351.4" y1="327.81" x2="351.4" y2="329.13" stroke="#000" stroke-width="0.7" stroke-linecap="butt"/>
<line x1="350.1" y1="327.81" x2="352.7" y2="327.81" stroke="#000" stroke-width="0.7" stroke-linecap="butt"/>
<line x1="377" y1="327.49" x2="377" y2="328.8" stroke="#000" stroke-width="0.7" stroke-linecap="butt"/>
<line x1="375.7" y1="327.49" x2="378.3" y2="327.49" stroke="#000" stroke-width="0.7" stroke-linecap="butt"/>
<polyline points="274.6,332.74 300.2,328.31 325.8,330.44 351.4,329.13 377,328.8" fill="none" stroke="#000" stroke-width="0.85" stroke-linejoin="round"/>
<circle cx="274.6" cy="332.74" r="1.15" fill="#000"/>
<circle cx="300.2" cy="328.31" r="1.15" fill="#000"/>
<circle cx="325.8" cy="330.44" r="1.15" fill="#000"/>
<circle cx="351.4" cy="329.13" r="1.15" fill="#000"/>
<circle cx="377" cy="328.8" r="1.15" fill="#000"/>
<line x1="379.3" y1="328.3" x2="384.7" y2="328.3" stroke="#000" stroke-width="1" stroke-linecap="butt"/>
<line x1="384.2" y1="327.8" x2="384.2" y2="380.8" stroke="#000" stroke-width="1" stroke-linecap="butt"/>
<line x1="380.2" y1="380.3" x2="384.7" y2="380.3" stroke="#000" stroke-width="1" stroke-linecap="butt"/>
<line x1="379.7" y1="376.7" x2="379.7" y2="384.5" stroke="#000" stroke-width="1" stroke-linecap="butt"/>
<text transform="translate(295.5 352.24) scale(0.1)" font-size="48" text-anchor="start" fill="#222" font-weight="bold" textLength="96" lengthAdjust="spacing" stroke="#222" stroke-width="0.5">****</text>
<text transform="translate(322.4 350.44) scale(0.1)" font-size="48" text-anchor="start" fill="#222" font-weight="bold" textLength="70" lengthAdjust="spacing" stroke="#222" stroke-width="0.5">***</text>
<text transform="translate(346.4 360.04) scale(0.1)" font-size="48" text-anchor="start" fill="#222" font-weight="bold" textLength="104" lengthAdjust="spacing" stroke="#222" stroke-width="0.5">****</text>
<text transform="translate(372.05 346.34) scale(0.1)" font-size="48" text-anchor="start" fill="#222" font-weight="bold" textLength="95" lengthAdjust="spacing" stroke="#222" stroke-width="0.5">***</text>
<text transform="translate(371.1 355.84) scale(0.1)" font-size="48" text-anchor="start" fill="#222" font-weight="bold" textLength="92" lengthAdjust="spacing" stroke="#222" stroke-width="0.5">****</text>
<text transform="translate(386.1 355.84) scale(0.1)" font-size="48" text-anchor="start" fill="#222" font-weight="bold" textLength="98" lengthAdjust="spacing" stroke="#222" stroke-width="0.5">****</text>
<text transform="translate(301.67 340.34) scale(0.1)" font-size="48" text-anchor="start" fill="#222" font-weight="bold" stroke="#222" stroke-width="0.5">*</text>
<text transform="translate(350.67 342.24) scale(0.1)" font-size="48" text-anchor="start" fill="#222" font-weight="bold" stroke="#222" stroke-width="0.5">*</text>
<text transform="translate(226.4 341.3) rotate(-90) scale(0.1)" font-size="57" text-anchor="middle" fill="#0a0a0a" font-weight="bold" textLength="599" lengthAdjust="spacing" stroke="#0a0a0a" stroke-width="2">Number of cells/mL</text>
<line x1="402.3" y1="324" x2="409.1" y2="324" stroke="#000" stroke-width="0.85" stroke-linecap="butt"/>
<circle cx="405.7" cy="324" r="1.2" fill="#000"/>
<text transform="translate(413.3 325.87) scale(0.1)" font-size="52" text-anchor="start" fill="#0a0a0a" font-weight="bold" textLength="101" lengthAdjust="spacing" stroke="#0a0a0a" stroke-width="2">CO</text>
<line x1="402.3" y1="331.1" x2="409.1" y2="331.1" stroke="#000" stroke-width="0.85" stroke-linecap="butt"/>
<rect x="404.56" y="329.96" width="2.28" height="2.28" fill="#000"/>
<text transform="translate(413.3 332.97) scale(0.1)" font-size="52" text-anchor="start" fill="#0a0a0a" font-weight="bold" textLength="141" lengthAdjust="spacing" stroke="#0a0a0a" stroke-width="2">1pM</text>
<line x1="402.3" y1="338.2" x2="409.1" y2="338.2" stroke="#000" stroke-width="0.85" stroke-linecap="butt"/>
<path d="M404.38 339.16L407.02 339.16L405.7 336.88Z" fill="#000"/>
<text transform="translate(413.3 340.07) scale(0.1)" font-size="52" text-anchor="start" fill="#0a0a0a" font-weight="bold" textLength="141" lengthAdjust="spacing" stroke="#0a0a0a" stroke-width="2">5pM</text>
<line x1="402.3" y1="345.3" x2="409.1" y2="345.3" stroke="#000" stroke-width="0.85" stroke-linecap="butt"/>
<path d="M404.38 344.34L407.02 344.34L405.7 346.62Z" fill="#000"/>
<text transform="translate(413.3 347.17) scale(0.1)" font-size="52" text-anchor="start" fill="#0a0a0a" font-weight="bold" textLength="187" lengthAdjust="spacing" stroke="#0a0a0a" stroke-width="2">10pM</text>
<line x1="402.3" y1="352.4" x2="409.1" y2="352.4" stroke="#000" stroke-width="0.85" stroke-linecap="butt"/>
<path d="M404.38 352.4L405.7 351.08L407.02 352.4L405.7 353.72Z" fill="#000"/>
<text transform="translate(413.3 354.27) scale(0.1)" font-size="52" text-anchor="start" fill="#0a0a0a" font-weight="bold" textLength="187" lengthAdjust="spacing" stroke="#0a0a0a" stroke-width="2">30pM</text>
<line x1="402.3" y1="359.5" x2="409.1" y2="359.5" stroke="#000" stroke-width="0.85" stroke-linecap="butt"/>
<circle cx="405.7" cy="359.5" r="0.74" fill="#ccc" stroke="#333" stroke-width="0.45"/>
<text transform="translate(413.3 361.37) scale(0.1)" font-size="52" text-anchor="start" fill="#0a0a0a" font-weight="bold" textLength="187" lengthAdjust="spacing" stroke="#0a0a0a" stroke-width="2">50pM</text>
<rect x="155.57" y="455.78" width="2.35" height="62.92" fill="#000000" stroke="#000" stroke-width="0.95"/>
<line x1="159.52" y1="455.93" x2="159.52" y2="455.43" stroke="#333" stroke-width="0.65" stroke-linecap="butt"/>
<line x1="158.62" y1="455.43" x2="160.42" y2="455.43" stroke="#333" stroke-width="0.65" stroke-linecap="butt"/>
<rect x="157.92" y="456.41" width="3.2" height="62.29" fill="#8e8e8e" stroke="#000" stroke-width="0.95"/>
<line x1="162.72" y1="456.19" x2="162.72" y2="455.68" stroke="#333" stroke-width="0.65" stroke-linecap="butt"/>
<line x1="161.82" y1="455.68" x2="163.62" y2="455.68" stroke="#333" stroke-width="0.65" stroke-linecap="butt"/>
<rect x="161.12" y="456.66" width="3.2" height="62.04" fill="#8e8e8e" stroke="#000" stroke-width="0.95"/>
<line x1="165.92" y1="457.46" x2="165.92" y2="456.19" stroke="#333" stroke-width="0.65" stroke-linecap="butt"/>
<line x1="165.02" y1="456.19" x2="166.82" y2="456.19" stroke="#333" stroke-width="0.65" stroke-linecap="butt"/>
<rect x="164.32" y="457.93" width="3.2" height="60.77" fill="#a0a0a0" stroke="#000" stroke-width="0.95"/>
<line x1="169.12" y1="460.18" x2="169.12" y2="458.28" stroke="#333" stroke-width="0.65" stroke-linecap="butt"/>
<line x1="168.22" y1="458.28" x2="170.03" y2="458.28" stroke="#333" stroke-width="0.65" stroke-linecap="butt"/>
<rect x="167.53" y="460.66" width="3.2" height="58.04" fill="#848484" stroke="#000" stroke-width="0.95"/>
<line x1="172.32" y1="458.91" x2="172.32" y2="457.33" stroke="#333" stroke-width="0.65" stroke-linecap="butt"/>
<line x1="171.42" y1="457.33" x2="173.22" y2="457.33" stroke="#333" stroke-width="0.65" stroke-linecap="butt"/>
<rect x="170.72" y="459.39" width="3.2" height="59.31" fill="#8e8e8e" stroke="#000" stroke-width="0.95"/>
<line x1="175.52" y1="459.29" x2="175.52" y2="457.71" stroke="#333" stroke-width="0.65" stroke-linecap="butt"/>
<line x1="174.62" y1="457.71" x2="176.42" y2="457.71" stroke="#333" stroke-width="0.65" stroke-linecap="butt"/>
<rect x="173.92" y="459.77" width="3.2" height="58.93" fill="#848484" stroke="#000" stroke-width="0.95"/>
<line x1="178.72" y1="459.86" x2="178.72" y2="458.91" stroke="#333" stroke-width="0.65" stroke-linecap="butt"/>
<line x1="177.82" y1="458.91" x2="179.62" y2="458.91" stroke="#333" stroke-width="0.65" stroke-linecap="butt"/>
<rect x="177.12" y="460.34" width="3.2" height="58.36" fill="#a0a0a0" stroke="#000" stroke-width="0.95"/>
<rect x="184.52" y="455.78" width="2.35" height="62.92" fill="#000000" stroke="#000" stroke-width="0.95"/>
<line x1="188.47" y1="455.62" x2="188.47" y2="455.11" stroke="#333" stroke-width="0.65" stroke-linecap="butt"/>
<line x1="187.57" y1="455.11" x2="189.37" y2="455.11" stroke="#333" stroke-width="0.65" stroke-linecap="butt"/>
<rect x="186.87" y="456.09" width="3.2" height="62.61" fill="#8e8e8e" stroke="#000" stroke-width="0.95"/>
<line x1="191.67" y1="455.93" x2="191.67" y2="455.43" stroke="#333" stroke-width="0.65" stroke-linecap="butt"/>
<line x1="190.77" y1="455.43" x2="192.57" y2="455.43" stroke="#333" stroke-width="0.65" stroke-linecap="butt"/>
<rect x="190.07" y="456.41" width="3.2" height="62.29" fill="#8e8e8e" stroke="#000" stroke-width="0.95"/>
<line x1="194.87" y1="459.29" x2="194.87" y2="457.71" stroke="#333" stroke-width="0.65" stroke-linecap="butt"/>
<line x1="193.97" y1="457.71" x2="195.77" y2="457.71" stroke="#333" stroke-width="0.65" stroke-linecap="butt"/>
<rect x="193.27" y="459.77" width="3.2" height="58.93" fill="#a0a0a0" stroke="#000" stroke-width="0.95"/>
<line x1="198.07" y1="462.91" x2="198.07" y2="460.06" stroke="#333" stroke-width="0.65" stroke-linecap="butt"/>
<line x1="197.17" y1="460.06" x2="198.97" y2="460.06" stroke="#333" stroke-width="0.65" stroke-linecap="butt"/>
<rect x="196.47" y="463.38" width="3.2" height="55.32" fill="#848484" stroke="#000" stroke-width="0.95"/>
<line x1="201.27" y1="466.59" x2="201.27" y2="464.05" stroke="#333" stroke-width="0.65" stroke-linecap="butt"/>
<line x1="200.37" y1="464.05" x2="202.17" y2="464.05" stroke="#333" stroke-width="0.65" stroke-linecap="butt"/>
<rect x="199.67" y="467.06" width="3.2" height="51.64" fill="#8e8e8e" stroke="#000" stroke-width="0.95"/>
<line x1="204.47" y1="467.47" x2="204.47" y2="465.89" stroke="#333" stroke-width="0.65" stroke-linecap="butt"/>
<line x1="203.57" y1="465.89" x2="205.37" y2="465.89" stroke="#333" stroke-width="0.65" stroke-linecap="butt"/>
<rect x="202.87" y="467.95" width="3.2" height="50.75" fill="#848484" stroke="#000" stroke-width="0.95"/>
<line x1="207.67" y1="470.2" x2="207.67" y2="467.66" stroke="#333" stroke-width="0.65" stroke-linecap="butt"/>
<line x1="206.77" y1="467.66" x2="208.57" y2="467.66" stroke="#333" stroke-width="0.65" stroke-linecap="butt"/>
<rect x="206.07" y="470.67" width="3.2" height="48.03" fill="#a0a0a0" stroke="#000" stroke-width="0.95"/>
<line x1="214.22" y1="455.74" x2="214.22" y2="455.24" stroke="#333" stroke-width="0.65" stroke-linecap="butt"/>
<line x1="213.32" y1="455.24" x2="215.12" y2="455.24" stroke="#333" stroke-width="0.65" stroke-linecap="butt"/>
<rect x="213.47" y="456.22" width="2.35" height="62.48" fill="#000000" stroke="#000" stroke-width="0.95"/>
<line x1="217.42" y1="455.74" x2="217.42" y2="455.24" stroke="#333" stroke-width="0.65" stroke-linecap="butt"/>
<line x1="216.52" y1="455.24" x2="218.32" y2="455.24" stroke="#333" stroke-width="0.65" stroke-linecap="butt"/>
<rect x="215.82" y="456.22" width="3.2" height="62.48" fill="#8e8e8e" stroke="#000" stroke-width="0.95"/>
<line x1="220.62" y1="456.89" x2="220.62" y2="455.62" stroke="#333" stroke-width="0.65" stroke-linecap="butt"/>
<line x1="219.72" y1="455.62" x2="221.53" y2="455.62" stroke="#333" stroke-width="0.65" stroke-linecap="butt"/>
<rect x="219.03" y="457.36" width="3.2" height="61.34" fill="#8e8e8e" stroke="#000" stroke-width="0.95"/>
<line x1="223.82" y1="459.1" x2="223.82" y2="456.25" stroke="#333" stroke-width="0.65" stroke-linecap="butt"/>
<line x1="222.92" y1="456.25" x2="224.72" y2="456.25" stroke="#333" stroke-width="0.65" stroke-linecap="butt"/>
<rect x="222.22" y="459.58" width="3.2" height="59.12" fill="#a0a0a0" stroke="#000" stroke-width="0.95"/>
<line x1="227.03" y1="461.64" x2="227.03" y2="458.47" stroke="#333" stroke-width="0.65" stroke-linecap="butt"/>
<line x1="226.12" y1="458.47" x2="227.93" y2="458.47" stroke="#333" stroke-width="0.65" stroke-linecap="butt"/>
<rect x="225.43" y="462.12" width="3.2" height="56.58" fill="#848484" stroke="#000" stroke-width="0.95"/>
<line x1="230.22" y1="471.15" x2="230.22" y2="468.3" stroke="#333" stroke-width="0.65" stroke-linecap="butt"/>
<line x1="229.32" y1="468.3" x2="231.12" y2="468.3" stroke="#333" stroke-width="0.65" stroke-linecap="butt"/>
<rect x="228.62" y="471.63" width="3.2" height="47.07" fill="#8e8e8e" stroke="#000" stroke-width="0.95"/>
<line x1="233.43" y1="472.93" x2="233.43" y2="468.49" stroke="#333" stroke-width="0.65" stroke-linecap="butt"/>
<line x1="232.53" y1="468.49" x2="234.33" y2="468.49" stroke="#333" stroke-width="0.65" stroke-linecap="butt"/>
<rect x="231.83" y="473.4" width="3.2" height="45.3" fill="#848484" stroke="#000" stroke-width="0.95"/>
<line x1="236.62" y1="468.36" x2="236.62" y2="464.81" stroke="#333" stroke-width="0.65" stroke-linecap="butt"/>
<line x1="235.72" y1="464.81" x2="237.53" y2="464.81" stroke="#333" stroke-width="0.65" stroke-linecap="butt"/>
<rect x="235.03" y="468.84" width="3.2" height="49.86" fill="#a0a0a0" stroke="#000" stroke-width="0.95"/>
<line x1="243.17" y1="455.3" x2="243.17" y2="454.35" stroke="#333" stroke-width="0.65" stroke-linecap="butt"/>
<line x1="242.27" y1="454.35" x2="244.07" y2="454.35" stroke="#333" stroke-width="0.65" stroke-linecap="butt"/>
<rect x="242.42" y="455.78" width="2.35" height="62.92" fill="#000000" stroke="#000" stroke-width="0.95"/>
<line x1="246.37" y1="455.62" x2="246.37" y2="454.67" stroke="#333" stroke-width="0.65" stroke-linecap="butt"/>
<line x1="245.47" y1="454.67" x2="247.27" y2="454.67" stroke="#333" stroke-width="0.65" stroke-linecap="butt"/>
<rect x="244.77" y="456.09" width="3.2" height="62.61" fill="#8e8e8e" stroke="#000" stroke-width="0.95"/>
<line x1="249.57" y1="456.57" x2="249.57" y2="455.62" stroke="#333" stroke-width="0.65" stroke-linecap="butt"/>
<line x1="248.67" y1="455.62" x2="250.47" y2="455.62" stroke="#333" stroke-width="0.65" stroke-linecap="butt"/>
<rect x="247.97" y="457.04" width="3.2" height="61.66" fill="#8e8e8e" stroke="#000" stroke-width="0.95"/>
<line x1="252.77" y1="458.47" x2="252.77" y2="456.57" stroke="#333" stroke-width="0.65" stroke-linecap="butt"/>
<line x1="251.87" y1="456.57" x2="253.67" y2="456.57" stroke="#333" stroke-width="0.65" stroke-linecap="butt"/>
<rect x="251.17" y="458.95" width="3.2" height="59.75" fill="#a0a0a0" stroke="#000" stroke-width="0.95"/>
<line x1="255.97" y1="463.8" x2="255.97" y2="459.8" stroke="#333" stroke-width="0.65" stroke-linecap="butt"/>
<line x1="255.07" y1="459.8" x2="256.88" y2="459.8" stroke="#333" stroke-width="0.65" stroke-linecap="butt"/>
<rect x="254.38" y="464.27" width="3.2" height="54.43" fill="#848484" stroke="#000" stroke-width="0.95"/>
<line x1="259.18" y1="473.88" x2="259.18" y2="471.47" stroke="#333" stroke-width="0.65" stroke-linecap="butt"/>
<line x1="258.28" y1="471.47" x2="260.07" y2="471.47" stroke="#333" stroke-width="0.65" stroke-linecap="butt"/>
<rect x="257.58" y="474.35" width="3.2" height="44.35" fill="#8e8e8e" stroke="#000" stroke-width="0.95"/>
<line x1="262.38" y1="472.93" x2="262.38" y2="470.2" stroke="#333" stroke-width="0.65" stroke-linecap="butt"/>
<line x1="261.48" y1="470.2" x2="263.27" y2="470.2" stroke="#333" stroke-width="0.65" stroke-linecap="butt"/>
<rect x="260.78" y="473.4" width="3.2" height="45.3" fill="#848484" stroke="#000" stroke-width="0.95"/>
<line x1="265.57" y1="478.06" x2="265.57" y2="475.65" stroke="#333" stroke-width="0.65" stroke-linecap="butt"/>
<line x1="264.68" y1="475.65" x2="266.47" y2="475.65" stroke="#333" stroke-width="0.65" stroke-linecap="butt"/>
<rect x="263.98" y="478.54" width="3.2" height="40.16" fill="#a0a0a0" stroke="#000" stroke-width="0.95"/>
<text transform="translate(195.22 457.93) scale(0.1)" font-size="46" text-anchor="start" fill="#222" font-weight="bold" textLength="41" lengthAdjust="spacing" stroke="#222" stroke-width="0.5">**</text>
<text transform="translate(200.97 460.23) scale(0.1)" font-size="46" text-anchor="start" fill="#222" font-weight="bold" textLength="82" lengthAdjust="spacing" stroke="#222" stroke-width="0.5">****</text>
<line x1="200.77" y1="460.2" x2="209.37" y2="460.2" stroke="#444" stroke-width="0.5" stroke-linecap="butt"/>
<text transform="translate(224.47 458.93) scale(0.1)" font-size="46" text-anchor="start" fill="#222" font-weight="bold" textLength="41" lengthAdjust="spacing" stroke="#222" stroke-width="0.5">**</text>
<text transform="translate(231.13 462.93) scale(0.1)" font-size="46" text-anchor="start" fill="#222" font-weight="bold" textLength="82" lengthAdjust="spacing" stroke="#222" stroke-width="0.5">****</text>
<line x1="231.13" y1="462.9" x2="239.33" y2="462.9" stroke="#444" stroke-width="0.5" stroke-linecap="butt"/>
<text transform="translate(251.07 458.33) scale(0.1)" font-size="46" text-anchor="start" fill="#222" font-weight="bold" textLength="82" lengthAdjust="spacing" stroke="#222" stroke-width="0.5">****</text>
<text transform="translate(258.88 468.43) scale(0.1)" font-size="46" text-anchor="start" fill="#222" font-weight="bold" textLength="82" lengthAdjust="spacing" stroke="#222" stroke-width="0.5">****</text>
<line x1="258.88" y1="468.4" x2="267.08" y2="468.4" stroke="#444" stroke-width="0.5" stroke-linecap="butt"/>
<line x1="154" y1="442.22" x2="154" y2="519.35" stroke="#000" stroke-width="1.3" stroke-linecap="butt"/>
<line x1="153.35" y1="518.7" x2="268.2" y2="518.7" stroke="#000" stroke-width="1.3" stroke-linecap="butt"/>
<line x1="152.2" y1="518.7" x2="154" y2="518.7" stroke="#000" stroke-width="0.8" stroke-linecap="butt"/>
<text transform="translate(147.1 520.91) scale(0.1)" font-size="53" text-anchor="start" fill="#0a0a0a" font-weight="bold" stroke="#0a0a0a" stroke-width="2">0</text>
<line x1="152.2" y1="506.02" x2="154" y2="506.02" stroke="#000" stroke-width="0.8" stroke-linecap="butt"/>
<text transform="translate(144.2 508.23) scale(0.1)" font-size="53" text-anchor="start" fill="#0a0a0a" font-weight="bold" textLength="59" lengthAdjust="spacing" stroke="#0a0a0a" stroke-width="2">20</text>
<line x1="152.2" y1="493.34" x2="154" y2="493.34" stroke="#000" stroke-width="0.8" stroke-linecap="butt"/>
<text transform="translate(144.2 495.55) scale(0.1)" font-size="53" text-anchor="start" fill="#0a0a0a" font-weight="bold" textLength="59" lengthAdjust="spacing" stroke="#0a0a0a" stroke-width="2">40</text>
<line x1="152.2" y1="480.66" x2="154" y2="480.66" stroke="#000" stroke-width="0.8" stroke-linecap="butt"/>
<text transform="translate(144.2 482.87) scale(0.1)" font-size="53" text-anchor="start" fill="#0a0a0a" font-weight="bold" textLength="59" lengthAdjust="spacing" stroke="#0a0a0a" stroke-width="2">60</text>
<line x1="152.2" y1="467.98" x2="154" y2="467.98" stroke="#000" stroke-width="0.8" stroke-linecap="butt"/>
<text transform="translate(144.2 470.19) scale(0.1)" font-size="53" text-anchor="start" fill="#0a0a0a" font-weight="bold" textLength="59" lengthAdjust="spacing" stroke="#0a0a0a" stroke-width="2">80</text>
<line x1="152.2" y1="455.3" x2="154" y2="455.3" stroke="#000" stroke-width="0.8" stroke-linecap="butt"/>
<text transform="translate(141.2 457.51) scale(0.1)" font-size="53" text-anchor="start" fill="#0a0a0a" font-weight="bold" textLength="89" lengthAdjust="spacing" stroke="#0a0a0a" stroke-width="2">100</text>
<line x1="152.2" y1="442.62" x2="154" y2="442.62" stroke="#000" stroke-width="0.8" stroke-linecap="butt"/>
<text transform="translate(141.2 444.83) scale(0.1)" font-size="53" text-anchor="start" fill="#0a0a0a" font-weight="bold" textLength="89" lengthAdjust="spacing" stroke="#0a0a0a" stroke-width="2">120</text>
<line x1="167.53" y1="518.7" x2="167.53" y2="520.5" stroke="#000" stroke-width="0.8" stroke-linecap="butt"/>
<text transform="translate(168.83 526.6) rotate(-50) scale(0.1)" font-size="48" text-anchor="end" fill="#0a0a0a" stroke="#0a0a0a" stroke-width="1.5">2h</text>
<line x1="196.47" y1="518.7" x2="196.47" y2="520.5" stroke="#000" stroke-width="0.8" stroke-linecap="butt"/>
<text transform="translate(197.78 526.6) rotate(-50) scale(0.1)" font-size="48" text-anchor="end" fill="#0a0a0a" stroke="#0a0a0a" stroke-width="1.5">4h</text>
<line x1="225.43" y1="518.7" x2="225.43" y2="520.5" stroke="#000" stroke-width="0.8" stroke-linecap="butt"/>
<text transform="translate(226.73 526.6) rotate(-50) scale(0.1)" font-size="48" text-anchor="end" fill="#0a0a0a" stroke="#0a0a0a" stroke-width="1.5">6h</text>
<line x1="254.38" y1="518.7" x2="254.38" y2="520.5" stroke="#000" stroke-width="0.8" stroke-linecap="butt"/>
<text transform="translate(255.68 526.6) rotate(-50) scale(0.1)" font-size="48" text-anchor="end" fill="#0a0a0a" stroke="#0a0a0a" stroke-width="1.5">8h</text>
<text transform="translate(136.9 481) rotate(-90) scale(0.1)" font-size="58" text-anchor="middle" fill="#0a0a0a" font-weight="bold" textLength="342" lengthAdjust="spacing" stroke="#0a0a0a" stroke-width="2">Viability (%)</text>
<rect x="285.3" y="446.45" width="8.1" height="3.7" fill="#000000" stroke="#000" stroke-width="0.8"/>
<text transform="translate(298.3 450.46) scale(0.1)" font-size="60" text-anchor="start" fill="#0a0a0a" font-weight="bold" stroke="#0a0a0a" stroke-width="2">0 pM</text>
<rect x="285.3" y="457.07" width="8.1" height="3.7" fill="#b4b4b4" stroke="#000" stroke-width="0.8"/>
<text transform="translate(298.3 461.08) scale(0.1)" font-size="60" text-anchor="start" fill="#0a0a0a" font-weight="bold" stroke="#0a0a0a" stroke-width="2">1 pM</text>
<rect x="285.3" y="467.69" width="8.1" height="3.7" fill="#b4b4b4" stroke="#000" stroke-width="0.8"/>
<text transform="translate(298.3 471.7) scale(0.1)" font-size="60" text-anchor="start" fill="#0a0a0a" font-weight="bold" stroke="#0a0a0a" stroke-width="2">5 pM</text>
<rect x="285.3" y="478.31" width="8.1" height="3.7" fill="#f4f4f4" stroke="#000" stroke-width="0.8"/>
<text transform="translate(298.3 482.32) scale(0.1)" font-size="60" text-anchor="start" fill="#0a0a0a" font-weight="bold" stroke="#0a0a0a" stroke-width="2">10 pM</text>
<rect x="285.3" y="488.93" width="8.1" height="3.7" fill="#8e8e8e" stroke="#000" stroke-width="0.8"/>
<text transform="translate(298.3 492.94) scale(0.1)" font-size="60" text-anchor="start" fill="#0a0a0a" font-weight="bold" stroke="#0a0a0a" stroke-width="2">30 pM</text>
<rect x="285.3" y="499.55" width="8.1" height="3.7" fill="#b4b4b4" stroke="#000" stroke-width="0.8"/>
<text transform="translate(298.3 503.56) scale(0.1)" font-size="60" text-anchor="start" fill="#0a0a0a" font-weight="bold" stroke="#0a0a0a" stroke-width="2">50 pM</text>
<rect x="285.3" y="510.17" width="8.1" height="3.7" fill="#8e8e8e" stroke="#000" stroke-width="0.8"/>
<text transform="translate(298.3 514.18) scale(0.1)" font-size="60" text-anchor="start" fill="#0a0a0a" font-weight="bold" stroke="#0a0a0a" stroke-width="2">70 pM</text>
<rect x="285.3" y="520.79" width="8.1" height="3.7" fill="#ffffff" stroke="#000" stroke-width="0.8"/>
<text transform="translate(298.3 524.8) scale(0.1)" font-size="60" text-anchor="start" fill="#0a0a0a" font-weight="bold" stroke="#0a0a0a" stroke-width="2">100 pM</text>
<text transform="translate(15.4 444.7) scale(0.1)" font-size="58" text-anchor="start" fill="#0a0a0a" font-weight="bold" stroke="#0a0a0a" stroke-width="2">D</text>
<text transform="translate(113.3 130.3) scale(0.1)" font-size="42" text-anchor="start" fill="#0a0a0a" font-weight="bold" textLength="320" lengthAdjust="spacing" stroke="#0a0a0a" stroke-width="1">K562 Cell line</text>
<text transform="translate(157.8 130.3) scale(0.1)" font-size="42" text-anchor="start" fill="#0a0a0a" font-weight="bold" textLength="88" lengthAdjust="spacing" stroke="#0a0a0a" stroke-width="1">N=3</text>
<text transform="translate(173 130.6) scale(0.1)" font-size="40" text-anchor="start" fill="#0a0a0a" font-weight="bold" font-style="italic" textLength="1438" lengthAdjust="spacing" stroke="#0a0a0a" stroke-width="1">*p &lt; 0.05, **p&lt; 0.01, ***p=0.001, ****p=0.0001, one-way anova analysis</text>
<text transform="translate(115 264.3) scale(0.1)" font-size="42" text-anchor="start" fill="#0a0a0a" font-weight="bold" textLength="357" lengthAdjust="spacing" stroke="#0a0a0a" stroke-width="1">Jurkat Cell line</text>
<text transform="translate(160.8 264) scale(0.1)" font-size="42" text-anchor="start" fill="#0a0a0a" font-weight="bold" textLength="90" lengthAdjust="spacing" stroke="#0a0a0a" stroke-width="1">N=3</text>
<text transform="translate(180.4 264.3) scale(0.1)" font-size="40" text-anchor="start" fill="#0a0a0a" font-weight="bold" font-style="italic" textLength="1423" lengthAdjust="spacing" stroke="#0a0a0a" stroke-width="1">*p &lt; 0.05, **p&lt; 0.01, ***p=0.001, ****p=0.0001, one-way anova analysis</text>
<text transform="translate(115.8 418.7) scale(0.1)" font-size="42" text-anchor="start" fill="#0a0a0a" font-weight="bold" textLength="314" lengthAdjust="spacing" stroke="#0a0a0a" stroke-width="1">U937 Cell line</text>
<text transform="translate(157.8 418.7) scale(0.1)" font-size="42" text-anchor="start" fill="#0a0a0a" font-weight="bold" textLength="84" lengthAdjust="spacing" stroke="#0a0a0a" stroke-width="1">N=3</text>
<text transform="translate(180.9 418.6) scale(0.1)" font-size="40" text-anchor="start" fill="#0a0a0a" font-weight="bold" font-style="italic" textLength="1421" lengthAdjust="spacing" stroke="#0a0a0a" stroke-width="1">*p &lt; 0.05, **p&lt; 0.01, ***p=0.001, ****p=0.0001, one-way anova analysis</text>
<text transform="translate(188 540) scale(0.1)" font-size="60" text-anchor="start" fill="#0a0a0a" textLength="469" lengthAdjust="spacing" stroke="#0a0a0a" stroke-width="0.5">Time of treatment</text>
</svg>
</body></html>
